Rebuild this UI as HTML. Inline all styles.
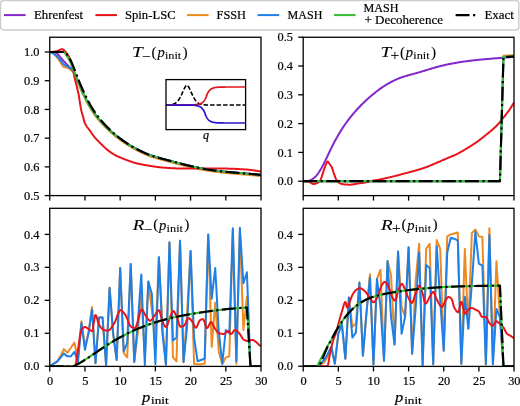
<!DOCTYPE html><html><head><meta charset="utf-8"><title>figure</title><style>html,body{margin:0;padding:0;background:#fff}svg{display:block}text{font-family:"Liberation Serif","DejaVu Serif",serif;fill:#000;stroke:#000;stroke-width:inherit}svg{stroke-width:0.2px}</style></head><body>
<svg width="520" height="406" viewBox="0 0 520 406">
<rect width="520" height="406" fill="#fff"/>
<defs>
<clipPath id="cTL"><rect x="49.75" y="37.25" width="211.25" height="158.35"/></clipPath>
<clipPath id="cTR"><rect x="303.2" y="37.25" width="210.8" height="158.35"/></clipPath>
<clipPath id="cBL"><rect x="49.75" y="208.3" width="211.25" height="158.09999999999997"/></clipPath>
<clipPath id="cBR"><rect x="303.2" y="208.3" width="210.8" height="158.09999999999997"/></clipPath>
<clipPath id="cI"><rect x="166" y="79.6" width="79.6" height="50"/></clipPath>
</defs>
<g clip-path="url(#cTL)">
<path d="M49.75,52.00 L50.13,52.00 L50.51,52.00 L50.89,52.00 L51.27,52.00 L51.64,52.00 L52.02,52.00 L52.40,52.00 L52.78,52.00 L53.16,52.00 L53.54,52.01 L53.92,52.07 L54.30,52.17 L54.67,52.30 L55.05,52.47 L55.43,52.66 L55.81,52.86 L56.19,53.08 L56.57,53.30 L56.95,53.53 L57.33,53.82 L57.71,54.16 L58.08,54.55 L58.46,54.97 L58.84,55.42 L59.22,55.88 L59.60,56.34 L59.98,56.79 L60.36,57.22 L60.74,57.64 L61.11,58.07 L61.49,58.51 L61.87,58.95 L62.25,59.39 L62.63,59.83 L63.01,60.26 L63.39,60.69 L63.77,61.12 L64.15,61.53 L64.52,61.94 L64.90,62.35 L65.28,62.75 L65.66,63.14 L66.04,63.54 L66.42,63.94 L66.80,64.34 L67.18,64.74 L67.55,65.14 L67.93,65.53 L68.31,65.93 L68.69,66.32 L69.07,66.71 L69.45,67.11 L69.83,67.51 L70.21,67.92 L70.59,68.33 L70.96,68.76 L71.34,69.18 L71.72,69.59 L72.10,70.00 L72.48,70.42 L72.86,70.86 L73.24,71.32 L73.62,71.82 L73.99,72.35 L74.37,72.93 L74.75,73.59 L75.13,74.35 L75.51,75.20 L75.89,76.11 L76.27,77.07 L76.65,78.05 L77.03,79.04 L77.40,80.01 L77.78,80.95 L77.92,81.28 L78.53,82.76 L79.14,84.23 L79.75,85.67 L80.37,87.10 L80.98,88.50 L81.59,89.88 L82.20,91.23 L82.82,92.56 L83.43,93.88 L84.04,95.16 L84.65,96.43 L85.26,97.67 L85.88,98.88 L86.49,100.08 L87.10,101.25 L87.71,102.39 L88.33,103.51 L88.94,104.61 L89.55,105.68 L90.16,106.73 L90.78,107.75 L91.39,108.74 L92.00,109.71 L92.61,110.66 L93.22,111.59 L93.84,112.49 L94.45,113.37 L95.06,114.23 L95.67,115.07 L96.29,115.89 L96.90,116.69 L97.51,117.48 L98.12,118.25 L98.74,119.00 L99.35,119.72 L99.96,120.42 L100.57,121.10 L101.18,121.77 L101.80,122.43 L102.41,123.08 L103.02,123.72 L103.63,124.35 L104.25,124.97 L104.86,125.59 L105.47,126.20 L106.08,126.80 L106.70,127.39 L107.31,127.98 L107.92,128.56 L108.53,129.13 L109.14,129.69 L109.76,130.25 L110.37,130.80 L110.98,131.35 L111.59,131.89 L112.21,132.42 L112.82,132.94 L113.43,133.46 L114.04,133.97 L114.66,134.47 L115.27,134.97 L115.88,135.46 L116.49,135.95 L117.11,136.43 L117.72,136.90 L118.33,137.37 L118.94,137.83 L119.55,138.28 L120.17,138.73 L120.78,139.17 L121.39,139.61 L122.00,140.04 L122.62,140.47 L123.23,140.89 L123.84,141.30 L124.45,141.71 L125.07,142.12 L125.68,142.52 L126.29,142.91 L126.90,143.30 L127.51,143.69 L128.13,144.08 L128.74,144.47 L129.35,144.85 L129.96,145.23 L130.58,145.61 L131.19,145.97 L131.80,146.34 L132.41,146.69 L133.03,147.05 L133.64,147.39 L134.25,147.74 L134.86,148.07 L135.47,148.41 L136.09,148.74 L136.70,149.06 L137.31,149.38 L137.92,149.69 L138.54,150.01 L139.15,150.31 L139.76,150.61 L140.37,150.91 L140.99,151.21 L141.60,151.50 L142.21,151.78 L142.82,152.07 L143.43,152.34 L144.05,152.62 L144.66,152.89 L145.27,153.16 L145.88,153.42 L146.50,153.68 L147.11,153.94 L147.72,154.19 L148.33,154.43 L148.95,154.67 L149.56,154.91 L150.17,155.13 L150.78,155.36 L151.39,155.57 L152.01,155.78 L152.62,155.99 L153.23,156.19 L153.84,156.39 L154.46,156.58 L155.07,156.77 L155.68,156.95 L156.29,157.14 L156.91,157.32 L157.52,157.49 L158.13,157.66 L158.74,157.83 L159.36,158.00 L159.97,158.17 L160.58,158.33 L161.19,158.50 L161.80,158.66 L162.42,158.82 L163.03,158.98 L163.64,159.14 L164.25,159.30 L164.87,159.46 L165.48,159.62 L166.09,159.78 L166.70,159.95 L167.32,160.11 L167.93,160.27 L168.54,160.43 L169.15,160.59 L169.76,160.75 L170.38,160.92 L170.99,161.08 L171.60,161.24 L172.21,161.40 L172.83,161.57 L173.44,161.73 L174.05,161.89 L174.66,162.05 L175.28,162.21 L175.89,162.37 L176.50,162.53 L177.11,162.69 L177.72,162.85 L178.34,163.01 L178.95,163.17 L179.56,163.33 L180.17,163.49 L180.79,163.65 L181.40,163.81 L182.01,163.96 L182.62,164.12 L183.24,164.27 L183.85,164.43 L184.46,164.58 L185.07,164.74 L185.68,164.89 L186.30,165.04 L186.91,165.19 L187.52,165.34 L188.13,165.49 L188.75,165.64 L189.36,165.78 L189.97,165.93 L190.58,166.07 L191.20,166.22 L191.81,166.36 L192.42,166.50 L193.03,166.64 L193.64,166.78 L194.26,166.91 L194.87,167.05 L195.48,167.18 L196.09,167.32 L196.71,167.45 L197.32,167.58 L197.93,167.71 L198.54,167.83 L199.16,167.96 L199.77,168.08 L200.38,168.21 L200.99,168.33 L201.61,168.44 L202.22,168.56 L202.83,168.68 L203.44,168.79 L204.05,168.90 L204.67,169.01 L205.28,169.12 L205.89,169.22 L206.50,169.33 L207.12,169.43 L207.73,169.53 L208.34,169.63 L208.95,169.72 L209.57,169.82 L210.18,169.91 L210.79,170.00 L211.40,170.09 L212.01,170.18 L212.63,170.26 L213.24,170.35 L213.85,170.43 L214.46,170.51 L215.08,170.59 L215.69,170.67 L216.30,170.75 L216.91,170.83 L217.53,170.90 L218.14,170.97 L218.75,171.05 L219.36,171.12 L219.97,171.19 L220.59,171.26 L221.20,171.32 L221.81,171.39 L222.42,171.45 L223.04,171.52 L223.65,171.58 L224.26,171.65 L224.87,171.71 L225.49,171.77 L226.10,171.83 L226.71,171.89 L227.32,171.95 L227.93,172.00 L228.55,172.06 L229.16,172.12 L229.77,172.17 L230.38,172.23 L231.00,172.28 L231.61,172.33 L232.22,172.39 L232.83,172.44 L233.45,172.49 L234.06,172.55 L234.67,172.60 L235.28,172.65 L235.89,172.70 L236.51,172.75 L237.12,172.80 L237.73,172.85 L238.34,172.90 L238.96,172.95 L239.57,173.00 L240.18,173.05 L240.79,173.10 L241.41,173.15 L242.02,173.20 L242.63,173.25 L243.24,173.30 L243.86,173.35 L244.47,173.41 L245.08,173.46 L245.69,173.51 L246.30,173.56 L246.92,173.61 L247.53,173.66 L248.14,173.71 L248.75,173.77 L249.37,173.82 L249.98,173.87 L250.59,173.93 L251.20,173.98 L251.82,174.04 L252.43,174.10 L253.04,174.15 L253.65,174.21 L254.26,174.27 L254.88,174.33 L255.49,174.39 L256.10,174.45 L256.71,174.51 L257.33,174.57 L257.94,174.63 L258.55,174.70 L259.16,174.76 L259.78,174.83 L260.39,174.90 L261.00,174.97" fill="none" stroke="#8228cc" stroke-width="2.0" stroke-linejoin="round" stroke-linecap="butt"/>
<path d="M49.75,52.00 L50.13,52.06 L50.51,52.15 L50.89,52.27 L51.27,52.42 L51.64,52.58 L52.02,52.76 L52.40,52.95 L52.78,53.16 L53.16,53.37 L53.54,53.60 L53.92,53.88 L54.30,54.19 L54.67,54.54 L55.05,54.92 L55.43,55.32 L55.81,55.74 L56.19,56.18 L56.57,56.62 L56.95,57.07 L57.33,57.56 L57.71,58.08 L58.08,58.64 L58.46,59.22 L58.84,59.81 L59.22,60.40 L59.60,60.99 L59.98,61.56 L60.36,62.12 L60.74,62.70 L61.11,63.32 L61.49,63.97 L61.87,64.61 L62.25,65.22 L62.63,65.78 L63.01,66.27 L63.39,66.65 L63.77,66.90 L64.15,67.05 L64.52,67.17 L64.90,67.26 L65.28,67.34 L65.66,67.41 L66.04,67.48 L66.42,67.55 L66.80,67.63 L67.18,67.74 L67.55,67.87 L67.93,68.02 L68.31,68.18 L68.69,68.37 L69.07,68.58 L69.45,68.80 L69.83,69.04 L70.21,69.30 L70.59,69.58 L70.96,69.88 L71.34,70.22 L71.72,70.61 L72.10,71.04 L72.48,71.52 L72.86,72.03 L73.24,72.57 L73.62,73.15 L73.99,73.75 L74.37,74.36 L74.75,75.03 L75.13,75.78 L75.51,76.60 L75.89,77.47 L76.27,78.38 L76.65,79.32 L77.03,80.26 L77.40,81.19 L77.78,82.11 L77.92,82.42 L78.53,83.91 L79.14,85.38 L79.75,86.82 L80.37,88.25 L80.98,89.65 L81.59,91.02 L82.20,92.38 L82.82,93.71 L83.43,95.02 L84.04,96.31 L84.65,97.58 L85.26,98.82 L85.88,100.03 L86.49,101.23 L87.10,102.40 L87.71,103.54 L88.33,104.66 L88.94,105.76 L89.55,106.83 L90.16,107.87 L90.78,108.90 L91.39,109.89 L92.00,110.86 L92.61,111.81 L93.22,112.73 L93.84,113.64 L94.45,114.52 L95.06,115.38 L95.67,116.22 L96.29,117.04 L96.90,117.84 L97.51,118.63 L98.12,119.40 L98.74,120.15 L99.35,120.87 L99.96,121.57 L100.57,122.25 L101.18,122.92 L101.80,123.58 L102.41,124.23 L103.02,124.87 L103.63,125.50 L104.25,126.12 L104.86,126.74 L105.47,127.35 L106.08,127.95 L106.70,128.54 L107.31,129.13 L107.92,129.71 L108.53,130.28 L109.14,130.84 L109.76,131.40 L110.37,131.95 L110.98,132.50 L111.59,133.03 L112.21,133.56 L112.82,134.09 L113.43,134.61 L114.04,135.12 L114.66,135.62 L115.27,136.12 L115.88,136.61 L116.49,137.10 L117.11,137.58 L117.72,138.05 L118.33,138.52 L118.94,138.98 L119.55,139.43 L120.17,139.88 L120.78,140.32 L121.39,140.76 L122.00,141.19 L122.62,141.62 L123.23,142.04 L123.84,142.45 L124.45,142.86 L125.07,143.27 L125.68,143.66 L126.29,144.06 L126.90,144.45 L127.51,144.84 L128.13,145.23 L128.74,145.62 L129.35,146.00 L129.96,146.38 L130.58,146.75 L131.19,147.12 L131.80,147.48 L132.41,147.84 L133.03,148.19 L133.64,148.54 L134.25,148.88 L134.86,149.22 L135.47,149.56 L136.09,149.88 L136.70,150.21 L137.31,150.53 L137.92,150.84 L138.54,151.15 L139.15,151.46 L139.76,151.76 L140.37,152.06 L140.99,152.36 L141.60,152.65 L142.21,152.93 L142.82,153.21 L143.43,153.49 L144.05,153.77 L144.66,154.04 L145.27,154.31 L145.88,154.57 L146.50,154.83 L147.11,155.09 L147.72,155.34 L148.33,155.58 L148.95,155.82 L149.56,156.06 L150.17,156.28 L150.78,156.50 L151.39,156.72 L152.01,156.93 L152.62,157.14 L153.23,157.34 L153.84,157.54 L154.46,157.73 L155.07,157.92 L155.68,158.10 L156.29,158.29 L156.91,158.46 L157.52,158.64 L158.13,158.81 L158.74,158.98 L159.36,159.15 L159.97,159.32 L160.58,159.48 L161.19,159.65 L161.80,159.81 L162.42,159.97 L163.03,160.13 L163.64,160.29 L164.25,160.45 L164.87,160.61 L165.48,160.77 L166.09,160.93 L166.70,161.09 L167.32,161.26 L167.93,161.42 L168.54,161.58 L169.15,161.74 L169.76,161.90 L170.38,162.07 L170.99,162.23 L171.60,162.39 L172.21,162.55 L172.83,162.71 L173.44,162.88 L174.05,163.04 L174.66,163.20 L175.28,163.36 L175.89,163.52 L176.50,163.68 L177.11,163.84 L177.72,164.00 L178.34,164.16 L178.95,164.32 L179.56,164.48 L180.17,164.64 L180.79,164.80 L181.40,164.95 L182.01,165.11 L182.62,165.27 L183.24,165.42 L183.85,165.58 L184.46,165.73 L185.07,165.88 L185.68,166.04 L186.30,166.19 L186.91,166.34 L187.52,166.49 L188.13,166.64 L188.75,166.78 L189.36,166.93 L189.97,167.08 L190.58,167.22 L191.20,167.36 L191.81,167.51 L192.42,167.65 L193.03,167.79 L193.64,167.93 L194.26,168.06 L194.87,168.20 L195.48,168.33 L196.09,168.47 L196.71,168.60 L197.32,168.73 L197.93,168.86 L198.54,168.98 L199.16,169.11 L199.77,169.23 L200.38,169.35 L200.99,169.47 L201.61,169.59 L202.22,169.71 L202.83,169.83 L203.44,169.94 L204.05,170.05 L204.67,170.16 L205.28,170.27 L205.89,170.37 L206.50,170.48 L207.12,170.58 L207.73,170.68 L208.34,170.77 L208.95,170.87 L209.57,170.97 L210.18,171.06 L210.79,171.15 L211.40,171.24 L212.01,171.33 L212.63,171.41 L213.24,171.50 L213.85,171.58 L214.46,171.66 L215.08,171.74 L215.69,171.82 L216.30,171.90 L216.91,171.97 L217.53,172.05 L218.14,172.12 L218.75,172.19 L219.36,172.27 L219.97,172.34 L220.59,172.40 L221.20,172.47 L221.81,172.54 L222.42,172.60 L223.04,172.67 L223.65,172.73 L224.26,172.79 L224.87,172.86 L225.49,172.92 L226.10,172.98 L226.71,173.04 L227.32,173.09 L227.93,173.15 L228.55,173.21 L229.16,173.26 L229.77,173.32 L230.38,173.38 L231.00,173.43 L231.61,173.48 L232.22,173.54 L232.83,173.59 L233.45,173.64 L234.06,173.69 L234.67,173.75 L235.28,173.80 L235.89,173.85 L236.51,173.90 L237.12,173.95 L237.73,174.00 L238.34,174.05 L238.96,174.10 L239.57,174.15 L240.18,174.20 L240.79,174.25 L241.41,174.30 L242.02,174.35 L242.63,174.40 L243.24,174.45 L243.86,174.50 L244.47,174.55 L245.08,174.60 L245.69,174.66 L246.30,174.71 L246.92,174.76 L247.53,174.81 L248.14,174.86 L248.75,174.92 L249.37,174.97 L249.98,175.02 L250.59,175.08 L251.20,175.13 L251.82,175.19 L252.43,175.24 L253.04,175.30 L253.65,175.36 L254.26,175.42 L254.88,175.48 L255.49,175.54 L256.10,175.60 L256.71,175.66 L257.33,175.72 L257.94,175.78 L258.55,175.85 L259.16,175.91 L259.78,175.98 L260.39,176.05 L261.00,176.11" fill="none" stroke="#ee8a22" stroke-width="2.0" stroke-linejoin="round" stroke-linecap="butt"/>
<path d="M49.75,52.00 L50.13,52.09 L50.51,52.20 L50.89,52.32 L51.27,52.47 L51.64,52.63 L52.02,52.80 L52.40,52.98 L52.78,53.17 L53.16,53.38 L53.54,53.59 L53.92,53.84 L54.30,54.11 L54.67,54.41 L55.05,54.72 L55.43,55.06 L55.81,55.40 L56.19,55.75 L56.57,56.10 L56.95,56.45 L57.33,56.82 L57.71,57.19 L58.08,57.58 L58.46,57.98 L58.84,58.39 L59.22,58.81 L59.60,59.24 L59.98,59.66 L60.36,60.09 L60.74,60.55 L61.11,61.04 L61.49,61.56 L61.87,62.08 L62.25,62.59 L62.63,63.09 L63.01,63.54 L63.39,63.95 L63.77,64.30 L64.15,64.58 L64.52,64.83 L64.90,65.06 L65.28,65.27 L65.66,65.46 L66.04,65.65 L66.42,65.84 L66.80,66.04 L67.18,66.25 L67.55,66.48 L67.93,66.71 L68.31,66.93 L68.69,67.15 L69.07,67.38 L69.45,67.62 L69.83,67.87 L70.21,68.14 L70.59,68.42 L70.96,68.73 L71.34,69.06 L71.72,69.41 L72.10,69.78 L72.48,70.18 L72.86,70.60 L73.24,71.06 L73.62,71.55 L73.99,72.08 L74.37,72.64 L74.75,73.29 L75.13,74.07 L75.51,74.94 L75.89,75.90 L76.27,76.90 L76.65,77.93 L77.03,78.96 L77.40,79.98 L77.78,80.95 L77.92,81.28 L78.53,82.76 L79.14,84.23 L79.75,85.67 L80.37,87.10 L80.98,88.50 L81.59,89.88 L82.20,91.23 L82.82,92.56 L83.43,93.88 L84.04,95.16 L84.65,96.43 L85.26,97.67 L85.88,98.88 L86.49,100.08 L87.10,101.25 L87.71,102.39 L88.33,103.51 L88.94,104.61 L89.55,105.68 L90.16,106.73 L90.78,107.75 L91.39,108.74 L92.00,109.71 L92.61,110.66 L93.22,111.59 L93.84,112.49 L94.45,113.37 L95.06,114.23 L95.67,115.07 L96.29,115.89 L96.90,116.69 L97.51,117.48 L98.12,118.25 L98.74,119.00 L99.35,119.72 L99.96,120.42 L100.57,121.10 L101.18,121.77 L101.80,122.43 L102.41,123.08 L103.02,123.72 L103.63,124.35 L104.25,124.97 L104.86,125.59 L105.47,126.20 L106.08,126.80 L106.70,127.39 L107.31,127.98 L107.92,128.56 L108.53,129.13 L109.14,129.69 L109.76,130.25 L110.37,130.80 L110.98,131.35 L111.59,131.89 L112.21,132.42 L112.82,132.94 L113.43,133.46 L114.04,133.97 L114.66,134.47 L115.27,134.97 L115.88,135.46 L116.49,135.95 L117.11,136.43 L117.72,136.90 L118.33,137.37 L118.94,137.83 L119.55,138.28 L120.17,138.73 L120.78,139.17 L121.39,139.61 L122.00,140.04 L122.62,140.47 L123.23,140.89 L123.84,141.30 L124.45,141.71 L125.07,142.12 L125.68,142.52 L126.29,142.91 L126.90,143.30 L127.51,143.69 L128.13,144.08 L128.74,144.47 L129.35,144.85 L129.96,145.23 L130.58,145.61 L131.19,145.97 L131.80,146.34 L132.41,146.69 L133.03,147.05 L133.64,147.39 L134.25,147.74 L134.86,148.07 L135.47,148.41 L136.09,148.74 L136.70,149.06 L137.31,149.38 L137.92,149.69 L138.54,150.01 L139.15,150.31 L139.76,150.61 L140.37,150.91 L140.99,151.21 L141.60,151.50 L142.21,151.78 L142.82,152.07 L143.43,152.34 L144.05,152.62 L144.66,152.89 L145.27,153.16 L145.88,153.42 L146.50,153.68 L147.11,153.94 L147.72,154.19 L148.33,154.43 L148.95,154.67 L149.56,154.91 L150.17,155.13 L150.78,155.36 L151.39,155.57 L152.01,155.78 L152.62,155.99 L153.23,156.19 L153.84,156.39 L154.46,156.58 L155.07,156.77 L155.68,156.95 L156.29,157.14 L156.91,157.32 L157.52,157.49 L158.13,157.66 L158.74,157.83 L159.36,158.00 L159.97,158.17 L160.58,158.33 L161.19,158.50 L161.80,158.66 L162.42,158.82 L163.03,158.98 L163.64,159.14 L164.25,159.30 L164.87,159.46 L165.48,159.62 L166.09,159.78 L166.70,159.95 L167.32,160.11 L167.93,160.27 L168.54,160.43 L169.15,160.59 L169.76,160.75 L170.38,160.92 L170.99,161.08 L171.60,161.24 L172.21,161.40 L172.83,161.57 L173.44,161.73 L174.05,161.89 L174.66,162.05 L175.28,162.21 L175.89,162.37 L176.50,162.53 L177.11,162.69 L177.72,162.85 L178.34,163.01 L178.95,163.17 L179.56,163.33 L180.17,163.49 L180.79,163.65 L181.40,163.81 L182.01,163.96 L182.62,164.12 L183.24,164.27 L183.85,164.43 L184.46,164.58 L185.07,164.74 L185.68,164.89 L186.30,165.04 L186.91,165.19 L187.52,165.34 L188.13,165.49 L188.75,165.64 L189.36,165.78 L189.97,165.93 L190.58,166.07 L191.20,166.22 L191.81,166.36 L192.42,166.50 L193.03,166.64 L193.64,166.78 L194.26,166.91 L194.87,167.05 L195.48,167.18 L196.09,167.32 L196.71,167.45 L197.32,167.58 L197.93,167.71 L198.54,167.83 L199.16,167.96 L199.77,168.08 L200.38,168.21 L200.99,168.33 L201.61,168.44 L202.22,168.56 L202.83,168.68 L203.44,168.79 L204.05,168.90 L204.67,169.01 L205.28,169.12 L205.89,169.22 L206.50,169.33 L207.12,169.43 L207.73,169.53 L208.34,169.63 L208.95,169.72 L209.57,169.82 L210.18,169.91 L210.79,170.00 L211.40,170.09 L212.01,170.18 L212.63,170.26 L213.24,170.35 L213.85,170.43 L214.46,170.51 L215.08,170.59 L215.69,170.67 L216.30,170.75 L216.91,170.83 L217.53,170.90 L218.14,170.97 L218.75,171.05 L219.36,171.12 L219.97,171.19 L220.59,171.26 L221.20,171.32 L221.81,171.39 L222.42,171.45 L223.04,171.52 L223.65,171.58 L224.26,171.65 L224.87,171.71 L225.49,171.77 L226.10,171.83 L226.71,171.89 L227.32,171.95 L227.93,172.00 L228.55,172.06 L229.16,172.12 L229.77,172.17 L230.38,172.23 L231.00,172.28 L231.61,172.33 L232.22,172.39 L232.83,172.44 L233.45,172.49 L234.06,172.55 L234.67,172.60 L235.28,172.65 L235.89,172.70 L236.51,172.75 L237.12,172.80 L237.73,172.85 L238.34,172.90 L238.96,172.95 L239.57,173.00 L240.18,173.05 L240.79,173.10 L241.41,173.15 L242.02,173.20 L242.63,173.25 L243.24,173.30 L243.86,173.35 L244.47,173.41 L245.08,173.46 L245.69,173.51 L246.30,173.56 L246.92,173.61 L247.53,173.66 L248.14,173.71 L248.75,173.77 L249.37,173.82 L249.98,173.87 L250.59,173.93 L251.20,173.98 L251.82,174.04 L252.43,174.10 L253.04,174.15 L253.65,174.21 L254.26,174.27 L254.88,174.33 L255.49,174.39 L256.10,174.45 L256.71,174.51 L257.33,174.57 L257.94,174.63 L258.55,174.70 L259.16,174.76 L259.78,174.83 L260.39,174.90 L261.00,174.97" fill="none" stroke="#1e80e6" stroke-width="2.0" stroke-linejoin="round" stroke-linecap="butt"/>
<path d="M49.75,52.00 L50.28,51.99 L50.81,51.97 L51.34,51.94 L51.87,51.90 L52.40,51.84 L52.93,51.78 L53.46,51.71 L53.99,51.63 L54.52,51.55 L55.04,51.46 L55.57,51.36 L56.10,51.27 L56.63,51.17 L57.16,51.05 L57.69,50.87 L58.22,50.63 L58.75,50.37 L59.28,50.09 L59.81,49.81 L60.34,49.56 L60.87,49.35 L61.40,49.20 L61.93,49.13 L62.46,49.19 L62.99,49.44 L63.52,49.84 L64.05,50.32 L64.57,50.84 L65.10,51.35 L65.63,51.93 L66.16,52.60 L66.69,53.33 L67.22,54.10 L67.75,54.89 L68.28,55.70 L68.81,56.56 L69.34,57.50 L69.87,58.55 L70.40,59.74 L70.93,61.16 L71.46,62.94 L71.99,64.99 L72.52,67.20 L73.05,69.49 L73.58,72.09 L74.10,74.96 L74.63,77.79 L75.16,80.27 L75.69,82.31 L76.22,84.22 L76.75,86.30 L77.28,88.52 L77.81,90.78 L78.34,92.93 L78.87,95.50 L79.40,99.27 L79.93,102.75 L80.46,106.07 L80.99,108.97 L81.52,111.29 L82.05,113.26 L82.58,115.10 L83.11,117.00 L83.63,119.00 L84.16,120.93 L84.69,122.57 L85.22,123.79 L85.75,124.82 L86.28,125.73 L86.81,126.54 L87.34,127.29 L87.87,127.99 L88.40,128.67 L88.93,129.34 L89.46,130.04 L89.99,130.78 L90.52,131.54 L91.05,132.30 L91.58,133.06 L92.11,133.81 L92.64,134.55 L93.16,135.28 L93.69,135.98 L94.22,136.67 L94.75,137.33 L95.28,137.96 L95.81,138.56 L96.34,139.16 L96.87,139.73 L97.40,140.29 L97.93,140.84 L98.46,141.38 L98.99,141.91 L99.52,142.44 L100.05,142.96 L100.58,143.48 L101.11,144.00 L101.64,144.52 L102.17,145.05 L102.69,145.57 L103.22,146.09 L103.75,146.61 L104.28,147.12 L104.81,147.62 L105.34,148.11 L105.87,148.58 L106.40,149.04 L106.93,149.48 L107.46,149.90 L107.99,150.32 L108.52,150.73 L109.05,151.13 L109.58,151.52 L110.11,151.91 L110.64,152.29 L111.17,152.66 L111.70,153.02 L112.22,153.37 L112.75,153.71 L113.28,154.04 L113.81,154.36 L114.34,154.66 L114.87,154.95 L115.40,155.24 L115.93,155.51 L116.46,155.77 L116.99,156.03 L117.52,156.28 L118.05,156.53 L118.58,156.77 L119.11,157.00 L119.64,157.23 L120.17,157.45 L120.70,157.67 L121.23,157.89 L121.76,158.10 L122.28,158.31 L122.81,158.52 L123.34,158.73 L123.87,158.94 L124.40,159.14 L124.93,159.35 L125.46,159.56 L125.99,159.76 L126.52,159.97 L127.05,160.17 L127.58,160.38 L128.11,160.58 L128.64,160.78 L129.17,160.98 L129.70,161.18 L130.23,161.37 L130.76,161.56 L131.29,161.75 L131.81,161.93 L132.34,162.11 L132.87,162.28 L133.40,162.44 L133.93,162.60 L134.46,162.75 L134.99,162.90 L135.52,163.04 L136.05,163.17 L136.58,163.30 L137.11,163.43 L137.64,163.56 L138.17,163.68 L138.70,163.79 L139.23,163.91 L139.76,164.02 L140.29,164.13 L140.82,164.24 L141.34,164.35 L141.87,164.45 L142.40,164.56 L142.93,164.66 L143.46,164.76 L143.99,164.86 L144.52,164.96 L145.05,165.06 L145.58,165.15 L146.11,165.25 L146.64,165.34 L147.17,165.43 L147.70,165.52 L148.23,165.61 L148.76,165.69 L149.29,165.77 L149.82,165.85 L150.35,165.93 L150.87,166.01 L151.40,166.09 L151.93,166.17 L152.46,166.25 L152.99,166.33 L153.52,166.41 L154.05,166.49 L154.58,166.57 L155.11,166.64 L155.64,166.72 L156.17,166.79 L156.70,166.87 L157.23,166.94 L157.76,167.01 L158.29,167.08 L158.82,167.15 L159.35,167.21 L159.88,167.27 L160.40,167.34 L160.93,167.39 L161.46,167.45 L161.99,167.50 L162.52,167.55 L163.05,167.60 L163.58,167.65 L164.11,167.69 L164.64,167.73 L165.17,167.76 L165.70,167.80 L166.23,167.83 L166.76,167.86 L167.29,167.90 L167.82,167.93 L168.35,167.96 L168.88,168.00 L169.41,168.03 L169.93,168.06 L170.46,168.09 L170.99,168.13 L171.52,168.16 L172.05,168.19 L172.58,168.22 L173.11,168.24 L173.64,168.27 L174.17,168.30 L174.70,168.33 L175.23,168.35 L175.76,168.38 L176.29,168.40 L176.82,168.42 L177.35,168.44 L177.88,168.46 L178.41,168.48 L178.94,168.50 L179.46,168.52 L179.99,168.53 L180.52,168.55 L181.05,168.56 L181.58,168.57 L182.11,168.58 L182.64,168.59 L183.17,168.59 L183.70,168.60 L184.23,168.60 L184.76,168.60 L185.29,168.60 L185.82,168.60 L186.35,168.60 L186.88,168.60 L187.41,168.60 L187.94,168.60 L188.47,168.60 L188.99,168.60 L189.52,168.60 L190.05,168.60 L190.58,168.60 L191.11,168.60 L191.64,168.60 L192.17,168.60 L192.70,168.60 L193.23,168.60 L193.76,168.60 L194.29,168.60 L194.82,168.60 L195.35,168.60 L195.88,168.60 L196.41,168.60 L196.94,168.60 L197.47,168.60 L198.00,168.60 L198.53,168.60 L199.05,168.60 L199.58,168.60 L200.11,168.60 L200.64,168.60 L201.17,168.60 L201.70,168.60 L202.23,168.60 L202.76,168.60 L203.29,168.60 L203.82,168.60 L204.35,168.60 L204.88,168.60 L205.41,168.60 L205.94,168.60 L206.47,168.60 L207.00,168.60 L207.53,168.60 L208.06,168.60 L208.58,168.60 L209.11,168.60 L209.64,168.60 L210.17,168.60 L210.70,168.60 L211.23,168.60 L211.76,168.60 L212.29,168.60 L212.82,168.60 L213.35,168.60 L213.88,168.60 L214.41,168.60 L214.94,168.60 L215.47,168.60 L216.00,168.60 L216.53,168.60 L217.06,168.60 L217.59,168.60 L218.11,168.60 L218.64,168.60 L219.17,168.60 L219.70,168.60 L220.23,168.60 L220.76,168.60 L221.29,168.60 L221.82,168.60 L222.35,168.60 L222.88,168.60 L223.41,168.60 L223.94,168.60 L224.47,168.60 L225.00,168.60 L225.53,168.60 L226.06,168.61 L226.59,168.61 L227.12,168.62 L227.64,168.62 L228.17,168.63 L228.70,168.64 L229.23,168.65 L229.76,168.67 L230.29,168.68 L230.82,168.70 L231.35,168.71 L231.88,168.73 L232.41,168.75 L232.94,168.77 L233.47,168.80 L234.00,168.82 L234.53,168.84 L235.06,168.87 L235.59,168.89 L236.12,168.92 L236.65,168.95 L237.17,168.97 L237.70,169.00 L238.23,169.03 L238.76,169.06 L239.29,169.09 L239.82,169.13 L240.35,169.16 L240.88,169.19 L241.41,169.22 L241.94,169.26 L242.47,169.29 L243.00,169.32 L243.53,169.36 L244.06,169.39 L244.59,169.43 L245.12,169.46 L245.65,169.50 L246.18,169.54 L246.70,169.58 L247.23,169.62 L247.76,169.67 L248.29,169.72 L248.82,169.77 L249.35,169.83 L249.88,169.88 L250.41,169.94 L250.94,170.01 L251.47,170.07 L252.00,170.14 L252.53,170.20 L253.06,170.27 L253.59,170.34 L254.12,170.42 L254.65,170.49 L255.18,170.57 L255.71,170.64 L256.23,170.72 L256.76,170.80 L257.29,170.88 L257.82,170.97 L258.35,171.05 L258.88,171.13 L259.41,171.22 L259.94,171.30 L260.47,171.39 L261.00,171.48" fill="none" stroke="#e8141a" stroke-width="2.0" stroke-linejoin="round" stroke-linecap="butt"/>
<path d="M49.75,52.00 L50.02,52.00 L50.28,52.00 L50.55,52.00 L50.82,52.00 L51.08,52.00 L51.35,52.00 L51.61,52.00 L51.88,52.00 L52.15,52.00 L52.41,52.00 L52.68,52.00 L52.95,52.00 L53.21,52.00 L53.48,52.00 L53.74,52.00 L54.01,52.00 L54.28,52.00 L54.54,52.00 L54.81,52.00 L55.08,52.00 L55.34,52.00 L55.61,52.00 L55.87,52.00 L56.14,52.00 L56.41,52.00 L56.67,52.00 L56.94,52.00 L57.21,52.00 L57.47,52.00 L57.74,52.00 L58.00,52.00 L58.27,52.00 L58.54,52.00 L58.80,52.00 L59.07,52.00 L59.34,52.00 L59.60,52.00 L59.87,52.00 L60.13,52.00 L60.40,52.00 L60.67,52.00 L60.93,52.00 L61.20,52.00 L61.47,52.00 L61.73,52.00 L62.00,52.00 L62.27,52.00 L62.53,52.00 L62.80,52.01 L63.06,52.05 L63.33,52.11 L63.60,52.20 L63.86,52.31 L64.13,52.44 L64.40,52.58 L64.66,52.78 L64.93,53.06 L65.19,53.40 L65.46,53.80 L65.73,54.21 L65.99,54.62 L66.26,55.02 L66.53,55.42 L66.79,55.83 L67.06,56.24 L67.32,56.67 L67.59,57.11 L67.86,57.55 L68.12,58.01 L68.39,58.48 L68.66,58.96 L68.92,59.45 L69.19,59.95 L69.45,60.47 L69.72,60.99 L69.99,61.54 L70.25,62.11 L70.52,62.70 L70.79,63.31 L71.05,63.93 L71.32,64.57 L71.59,65.22 L71.85,65.87 L72.12,66.54 L72.38,67.20 L72.65,67.87 L72.92,68.53 L73.18,69.19 L73.45,69.86 L73.72,70.53 L73.98,71.21 L74.25,71.90 L74.51,72.59 L74.78,73.29 L75.05,73.99 L75.31,74.69 L75.58,75.38 L75.85,76.08 L76.11,76.77 L76.38,77.45 L76.64,78.12 L76.91,78.78 L77.18,79.45 L77.44,80.11 L77.71,80.77 L77.92,81.28 L78.53,82.76 L79.14,84.23 L79.75,85.67 L80.37,87.10 L80.98,88.50 L81.59,89.88 L82.20,91.23 L82.82,92.56 L83.43,93.88 L84.04,95.16 L84.65,96.43 L85.26,97.67 L85.88,98.88 L86.49,100.08 L87.10,101.25 L87.71,102.39 L88.33,103.51 L88.94,104.61 L89.55,105.68 L90.16,106.73 L90.78,107.75 L91.39,108.74 L92.00,109.71 L92.61,110.66 L93.22,111.59 L93.84,112.49 L94.45,113.37 L95.06,114.23 L95.67,115.07 L96.29,115.89 L96.90,116.69 L97.51,117.48 L98.12,118.25 L98.74,119.00 L99.35,119.72 L99.96,120.42 L100.57,121.10 L101.18,121.77 L101.80,122.43 L102.41,123.08 L103.02,123.72 L103.63,124.35 L104.25,124.97 L104.86,125.59 L105.47,126.20 L106.08,126.80 L106.70,127.39 L107.31,127.98 L107.92,128.56 L108.53,129.13 L109.14,129.69 L109.76,130.25 L110.37,130.80 L110.98,131.35 L111.59,131.89 L112.21,132.42 L112.82,132.94 L113.43,133.46 L114.04,133.97 L114.66,134.47 L115.27,134.97 L115.88,135.46 L116.49,135.95 L117.11,136.43 L117.72,136.90 L118.33,137.37 L118.94,137.83 L119.55,138.28 L120.17,138.73 L120.78,139.17 L121.39,139.61 L122.00,140.04 L122.62,140.47 L123.23,140.89 L123.84,141.30 L124.45,141.71 L125.07,142.12 L125.68,142.52 L126.29,142.91 L126.90,143.30 L127.51,143.69 L128.13,144.08 L128.74,144.47 L129.35,144.85 L129.96,145.23 L130.58,145.61 L131.19,145.97 L131.80,146.34 L132.41,146.69 L133.03,147.05 L133.64,147.39 L134.25,147.74 L134.86,148.07 L135.47,148.41 L136.09,148.74 L136.70,149.06 L137.31,149.38 L137.92,149.69 L138.54,150.01 L139.15,150.31 L139.76,150.61 L140.37,150.91 L140.99,151.21 L141.60,151.50 L142.21,151.78 L142.82,152.07 L143.43,152.34 L144.05,152.62 L144.66,152.89 L145.27,153.16 L145.88,153.42 L146.50,153.68 L147.11,153.94 L147.72,154.19 L148.33,154.43 L148.95,154.67 L149.56,154.91 L150.17,155.13 L150.78,155.36 L151.39,155.57 L152.01,155.78 L152.62,155.99 L153.23,156.19 L153.84,156.39 L154.46,156.58 L155.07,156.77 L155.68,156.95 L156.29,157.14 L156.91,157.32 L157.52,157.49 L158.13,157.66 L158.74,157.83 L159.36,158.00 L159.97,158.17 L160.58,158.33 L161.19,158.50 L161.80,158.66 L162.42,158.82 L163.03,158.98 L163.64,159.14 L164.25,159.30 L164.87,159.46 L165.48,159.62 L166.09,159.78 L166.70,159.95 L167.32,160.11 L167.93,160.27 L168.54,160.43 L169.15,160.59 L169.76,160.75 L170.38,160.92 L170.99,161.08 L171.60,161.24 L172.21,161.40 L172.83,161.57 L173.44,161.73 L174.05,161.89 L174.66,162.05 L175.28,162.21 L175.89,162.37 L176.50,162.53 L177.11,162.69 L177.72,162.85 L178.34,163.01 L178.95,163.17 L179.56,163.33 L180.17,163.49 L180.79,163.65 L181.40,163.81 L182.01,163.96 L182.62,164.12 L183.24,164.27 L183.85,164.43 L184.46,164.58 L185.07,164.74 L185.68,164.89 L186.30,165.04 L186.91,165.19 L187.52,165.34 L188.13,165.49 L188.75,165.64 L189.36,165.78 L189.97,165.93 L190.58,166.07 L191.20,166.22 L191.81,166.36 L192.42,166.50 L193.03,166.64 L193.64,166.78 L194.26,166.91 L194.87,167.05 L195.48,167.18 L196.09,167.32 L196.71,167.45 L197.32,167.58 L197.93,167.71 L198.54,167.83 L199.16,167.96 L199.77,168.08 L200.38,168.21 L200.99,168.33 L201.61,168.44 L202.22,168.56 L202.83,168.68 L203.44,168.79 L204.05,168.90 L204.67,169.01 L205.28,169.12 L205.89,169.22 L206.50,169.33 L207.12,169.43 L207.73,169.53 L208.34,169.63 L208.95,169.72 L209.57,169.82 L210.18,169.91 L210.79,170.00 L211.40,170.09 L212.01,170.18 L212.63,170.26 L213.24,170.35 L213.85,170.43 L214.46,170.51 L215.08,170.59 L215.69,170.67 L216.30,170.75 L216.91,170.83 L217.53,170.90 L218.14,170.97 L218.75,171.05 L219.36,171.12 L219.97,171.19 L220.59,171.26 L221.20,171.32 L221.81,171.39 L222.42,171.45 L223.04,171.52 L223.65,171.58 L224.26,171.65 L224.87,171.71 L225.49,171.77 L226.10,171.83 L226.71,171.89 L227.32,171.95 L227.93,172.00 L228.55,172.06 L229.16,172.12 L229.77,172.17 L230.38,172.23 L231.00,172.28 L231.61,172.33 L232.22,172.39 L232.83,172.44 L233.45,172.49 L234.06,172.55 L234.67,172.60 L235.28,172.65 L235.89,172.70 L236.51,172.75 L237.12,172.80 L237.73,172.85 L238.34,172.90 L238.96,172.95 L239.57,173.00 L240.18,173.05 L240.79,173.10 L241.41,173.15 L242.02,173.20 L242.63,173.25 L243.24,173.30 L243.86,173.35 L244.47,173.41 L245.08,173.46 L245.69,173.51 L246.30,173.56 L246.92,173.61 L247.53,173.66 L248.14,173.71 L248.75,173.77 L249.37,173.82 L249.98,173.87 L250.59,173.93 L251.20,173.98 L251.82,174.04 L252.43,174.10 L253.04,174.15 L253.65,174.21 L254.26,174.27 L254.88,174.33 L255.49,174.39 L256.10,174.45 L256.71,174.51 L257.33,174.57 L257.94,174.63 L258.55,174.70 L259.16,174.76 L259.78,174.83 L260.39,174.90 L261.00,174.97" fill="none" stroke="#34bb34" stroke-width="2.0" stroke-linejoin="round" stroke-linecap="butt"/>
<path d="M49.75,52.00 L50.02,52.00 L50.28,52.00 L50.55,52.00 L50.82,52.00 L51.08,52.00 L51.35,52.00 L51.61,52.00 L51.88,52.00 L52.15,52.00 L52.41,52.00 L52.68,52.00 L52.95,52.00 L53.21,52.00 L53.48,52.00 L53.74,52.00 L54.01,52.00 L54.28,52.00 L54.54,52.00 L54.81,52.00 L55.08,52.00 L55.34,52.00 L55.61,52.00 L55.87,52.00 L56.14,52.00 L56.41,52.00 L56.67,52.00 L56.94,52.00 L57.21,52.00 L57.47,52.00 L57.74,52.00 L58.00,52.00 L58.27,52.00 L58.54,52.00 L58.80,52.00 L59.07,52.00 L59.34,52.00 L59.60,52.00 L59.87,52.00 L60.13,52.00 L60.40,52.00 L60.67,52.00 L60.93,52.00 L61.20,52.00 L61.47,52.00 L61.73,52.00 L62.00,52.00 L62.27,52.00 L62.53,52.00 L62.80,52.00 L63.06,52.00 L63.33,52.00 L63.60,52.00 L63.86,52.00 L64.13,52.02 L64.40,52.07 L64.66,52.15 L64.93,52.26 L65.19,52.37 L65.46,52.51 L65.73,52.66 L65.99,52.90 L66.26,53.22 L66.53,53.59 L66.79,54.00 L67.06,54.42 L67.32,54.83 L67.59,55.22 L67.86,55.62 L68.12,56.03 L68.39,56.46 L68.66,56.89 L68.92,57.33 L69.19,57.78 L69.45,58.25 L69.72,58.72 L69.99,59.20 L70.25,59.70 L70.52,60.21 L70.79,60.73 L71.05,61.26 L71.32,61.82 L71.59,62.40 L71.85,63.00 L72.12,63.62 L72.38,64.25 L72.65,64.89 L72.92,65.55 L73.18,66.21 L73.45,66.87 L73.72,67.54 L73.98,68.20 L74.25,68.87 L74.51,69.53 L74.78,70.19 L75.05,70.87 L75.31,71.56 L75.58,72.25 L75.85,72.94 L76.11,73.64 L76.38,74.34 L76.64,75.04 L76.91,75.73 L77.18,76.43 L77.44,77.11 L77.71,77.79 L77.92,78.31 L78.53,79.84 L79.14,81.34 L79.75,82.83 L80.37,84.30 L80.98,85.74 L81.59,87.16 L82.20,88.56 L82.82,89.94 L83.43,91.29 L84.04,92.62 L84.65,93.93 L85.26,95.22 L85.88,96.48 L86.49,97.72 L87.10,98.94 L87.71,100.13 L88.33,101.30 L88.94,102.44 L89.55,103.56 L90.16,104.66 L90.78,105.73 L91.39,106.77 L92.00,107.79 L92.61,108.79 L93.22,109.76 L93.84,110.70 L94.45,111.63 L95.06,112.53 L95.67,113.41 L96.29,114.27 L96.90,115.11 L97.51,115.93 L98.12,116.73 L98.74,117.51 L99.35,118.28 L99.96,119.03 L100.57,119.77 L101.18,120.50 L101.80,121.21 L102.41,121.90 L103.02,122.59 L103.63,123.27 L104.25,123.93 L104.86,124.59 L105.47,125.24 L106.08,125.88 L106.70,126.51 L107.31,127.13 L107.92,127.75 L108.53,128.35 L109.14,128.95 L109.76,129.55 L110.37,130.13 L110.98,130.71 L111.59,131.28 L112.21,131.84 L112.82,132.39 L113.43,132.94 L114.04,133.48 L114.66,134.01 L115.27,134.54 L115.88,135.06 L116.49,135.57 L117.11,136.08 L117.72,136.58 L118.33,137.07 L118.94,137.55 L119.55,138.03 L120.17,138.50 L120.78,138.97 L121.39,139.43 L122.00,139.88 L122.62,140.33 L123.23,140.77 L123.84,141.20 L124.45,141.63 L125.07,142.06 L125.68,142.47 L126.29,142.88 L126.90,143.29 L127.51,143.69 L128.13,144.08 L128.74,144.47 L129.35,144.85 L129.96,145.23 L130.58,145.61 L131.19,145.97 L131.80,146.34 L132.41,146.69 L133.03,147.05 L133.64,147.39 L134.25,147.74 L134.86,148.07 L135.47,148.41 L136.09,148.74 L136.70,149.06 L137.31,149.38 L137.92,149.69 L138.54,150.01 L139.15,150.31 L139.76,150.61 L140.37,150.91 L140.99,151.21 L141.60,151.50 L142.21,151.78 L142.82,152.07 L143.43,152.34 L144.05,152.62 L144.66,152.89 L145.27,153.16 L145.88,153.42 L146.50,153.68 L147.11,153.94 L147.72,154.19 L148.33,154.43 L148.95,154.67 L149.56,154.91 L150.17,155.13 L150.78,155.36 L151.39,155.57 L152.01,155.78 L152.62,155.99 L153.23,156.19 L153.84,156.39 L154.46,156.58 L155.07,156.77 L155.68,156.95 L156.29,157.14 L156.91,157.32 L157.52,157.49 L158.13,157.66 L158.74,157.83 L159.36,158.00 L159.97,158.17 L160.58,158.33 L161.19,158.50 L161.80,158.66 L162.42,158.82 L163.03,158.98 L163.64,159.14 L164.25,159.30 L164.87,159.46 L165.48,159.62 L166.09,159.78 L166.70,159.95 L167.32,160.11 L167.93,160.27 L168.54,160.43 L169.15,160.59 L169.76,160.75 L170.38,160.92 L170.99,161.08 L171.60,161.24 L172.21,161.40 L172.83,161.57 L173.44,161.73 L174.05,161.89 L174.66,162.05 L175.28,162.21 L175.89,162.37 L176.50,162.53 L177.11,162.69 L177.72,162.85 L178.34,163.01 L178.95,163.17 L179.56,163.33 L180.17,163.49 L180.79,163.65 L181.40,163.81 L182.01,163.96 L182.62,164.12 L183.24,164.27 L183.85,164.43 L184.46,164.58 L185.07,164.74 L185.68,164.89 L186.30,165.04 L186.91,165.19 L187.52,165.34 L188.13,165.49 L188.75,165.64 L189.36,165.78 L189.97,165.93 L190.58,166.07 L191.20,166.22 L191.81,166.36 L192.42,166.50 L193.03,166.64 L193.64,166.78 L194.26,166.91 L194.87,167.05 L195.48,167.18 L196.09,167.32 L196.71,167.45 L197.32,167.58 L197.93,167.71 L198.54,167.83 L199.16,167.96 L199.77,168.08 L200.38,168.21 L200.99,168.33 L201.61,168.44 L202.22,168.56 L202.83,168.68 L203.44,168.79 L204.05,168.90 L204.67,169.01 L205.28,169.12 L205.89,169.22 L206.50,169.33 L207.12,169.43 L207.73,169.53 L208.34,169.63 L208.95,169.72 L209.57,169.82 L210.18,169.91 L210.79,170.00 L211.40,170.09 L212.01,170.18 L212.63,170.26 L213.24,170.35 L213.85,170.43 L214.46,170.51 L215.08,170.59 L215.69,170.67 L216.30,170.75 L216.91,170.83 L217.53,170.90 L218.14,170.97 L218.75,171.05 L219.36,171.12 L219.97,171.19 L220.59,171.26 L221.20,171.32 L221.81,171.39 L222.42,171.45 L223.04,171.52 L223.65,171.58 L224.26,171.65 L224.87,171.71 L225.49,171.77 L226.10,171.83 L226.71,171.89 L227.32,171.95 L227.93,172.00 L228.55,172.06 L229.16,172.12 L229.77,172.17 L230.38,172.23 L231.00,172.28 L231.61,172.33 L232.22,172.39 L232.83,172.44 L233.45,172.49 L234.06,172.55 L234.67,172.60 L235.28,172.65 L235.89,172.70 L236.51,172.75 L237.12,172.80 L237.73,172.85 L238.34,172.90 L238.96,172.95 L239.57,173.00 L240.18,173.05 L240.79,173.10 L241.41,173.15 L242.02,173.20 L242.63,173.25 L243.24,173.30 L243.86,173.35 L244.47,173.41 L245.08,173.46 L245.69,173.51 L246.30,173.56 L246.92,173.61 L247.53,173.66 L248.14,173.71 L248.75,173.77 L249.37,173.82 L249.98,173.87 L250.59,173.93 L251.20,173.98 L251.82,174.04 L252.43,174.10 L253.04,174.15 L253.65,174.21 L254.26,174.27 L254.88,174.33 L255.49,174.39 L256.10,174.45 L256.71,174.51 L257.33,174.57 L257.94,174.63 L258.55,174.70 L259.16,174.76 L259.78,174.83 L260.39,174.90 L261.00,174.97" fill="none" stroke="#000" stroke-width="2.18" stroke-linejoin="round" stroke-linecap="butt" stroke-dasharray="13.95,3.49,2.18,3.49"/>
</g>
<g clip-path="url(#cTR)">
<path d="M303.20,180.99 L303.91,181.06 L304.61,181.09 L305.32,181.10 L306.02,181.08 L306.73,181.02 L307.43,180.93 L308.14,180.80 L308.84,180.63 L309.55,180.41 L310.25,180.15 L310.96,179.84 L311.66,179.48 L312.37,179.07 L313.07,178.60 L313.78,178.07 L314.48,177.48 L315.19,176.83 L315.89,176.11 L316.60,175.32 L317.30,174.47 L318.01,173.54 L318.71,172.54 L319.42,171.47 L320.12,170.34 L320.83,169.15 L321.53,167.92 L322.24,166.63 L322.94,165.30 L323.65,163.94 L324.35,162.54 L325.06,161.12 L325.76,159.67 L326.47,158.21 L327.17,156.73 L327.88,155.25 L328.58,153.76 L329.29,152.28 L330.00,150.80 L330.70,149.33 L331.41,147.88 L332.11,146.46 L332.82,145.06 L333.52,143.68 L334.23,142.33 L334.93,141.00 L335.64,139.70 L336.34,138.42 L337.05,137.17 L337.75,135.93 L338.46,134.72 L339.16,133.54 L339.87,132.37 L340.57,131.22 L341.28,130.10 L341.98,129.00 L342.69,127.91 L343.39,126.85 L344.10,125.80 L344.80,124.77 L345.51,123.77 L346.21,122.77 L346.92,121.80 L347.62,120.84 L348.33,119.90 L349.03,118.98 L349.74,118.07 L350.44,117.17 L351.15,116.30 L351.85,115.43 L352.56,114.58 L353.26,113.74 L353.97,112.92 L354.67,112.11 L355.38,111.31 L356.09,110.52 L356.79,109.74 L357.50,108.97 L358.20,108.22 L358.91,107.47 L359.61,106.74 L360.32,106.01 L361.02,105.29 L361.73,104.58 L362.43,103.88 L363.14,103.19 L363.84,102.50 L364.55,101.83 L365.25,101.16 L365.96,100.50 L366.66,99.85 L367.37,99.20 L368.07,98.57 L368.78,97.94 L369.48,97.32 L370.19,96.71 L370.89,96.10 L371.60,95.50 L372.30,94.91 L373.01,94.32 L373.71,93.75 L374.42,93.18 L375.12,92.62 L375.83,92.06 L376.53,91.52 L377.24,90.98 L377.94,90.45 L378.65,89.92 L379.35,89.41 L380.06,88.90 L380.76,88.40 L381.47,87.91 L382.18,87.42 L382.88,86.95 L383.59,86.48 L384.29,86.02 L385.00,85.57 L385.70,85.12 L386.41,84.69 L387.11,84.26 L387.82,83.84 L388.52,83.43 L389.23,83.03 L389.93,82.64 L390.64,82.25 L391.34,81.87 L392.05,81.50 L392.75,81.14 L393.46,80.79 L394.16,80.45 L394.87,80.12 L395.57,79.79 L396.28,79.47 L396.98,79.17 L397.69,78.87 L398.39,78.58 L399.10,78.30 L399.80,78.02 L400.51,77.76 L401.21,77.51 L401.92,77.26 L402.62,77.02 L403.33,76.79 L404.03,76.56 L404.74,76.34 L405.44,76.13 L406.15,75.92 L406.85,75.72 L407.56,75.52 L408.26,75.32 L408.97,75.12 L409.68,74.93 L410.38,74.74 L411.09,74.55 L411.79,74.36 L412.50,74.18 L413.20,73.99 L413.91,73.80 L414.61,73.61 L415.32,73.41 L416.02,73.22 L416.73,73.02 L417.43,72.82 L418.14,72.61 L418.84,72.41 L419.55,72.20 L420.25,71.99 L420.96,71.78 L421.66,71.56 L422.37,71.35 L423.07,71.13 L423.78,70.92 L424.48,70.70 L425.19,70.48 L425.89,70.27 L426.60,70.05 L427.30,69.83 L428.01,69.61 L428.71,69.40 L429.42,69.18 L430.12,68.97 L430.83,68.75 L431.53,68.54 L432.24,68.33 L432.94,68.12 L433.65,67.92 L434.35,67.72 L435.06,67.51 L435.77,67.32 L436.47,67.12 L437.18,66.93 L437.88,66.74 L438.59,66.55 L439.29,66.37 L440.00,66.19 L440.70,66.01 L441.41,65.84 L442.11,65.67 L442.82,65.50 L443.52,65.33 L444.23,65.17 L444.93,65.01 L445.64,64.85 L446.34,64.70 L447.05,64.54 L447.75,64.39 L448.46,64.25 L449.16,64.10 L449.87,63.96 L450.57,63.82 L451.28,63.68 L451.98,63.54 L452.69,63.41 L453.39,63.28 L454.10,63.15 L454.80,63.02 L455.51,62.90 L456.21,62.78 L456.92,62.66 L457.62,62.54 L458.33,62.42 L459.03,62.31 L459.74,62.20 L460.44,62.09 L461.15,61.98 L461.86,61.87 L462.56,61.77 L463.27,61.67 L463.97,61.57 L464.68,61.47 L465.38,61.37 L466.09,61.27 L466.79,61.18 L467.50,61.09 L468.20,61.00 L468.91,60.91 L469.61,60.82 L470.32,60.73 L471.02,60.65 L471.73,60.57 L472.43,60.48 L473.14,60.40 L473.84,60.32 L474.55,60.24 L475.25,60.17 L475.96,60.09 L476.66,60.02 L477.37,59.94 L478.07,59.87 L478.78,59.80 L479.48,59.73 L480.19,59.66 L480.89,59.59 L481.60,59.52 L482.30,59.46 L483.01,59.39 L483.71,59.33 L484.42,59.26 L485.12,59.20 L485.83,59.14 L486.53,59.07 L487.24,59.01 L487.95,58.95 L488.65,58.89 L489.36,58.83 L490.06,58.77 L490.77,58.71 L491.47,58.66 L492.18,58.60 L492.88,58.54 L493.59,58.48 L494.29,58.43 L495.00,58.37 L495.70,58.32 L496.41,58.26 L497.11,58.20 L497.82,58.15 L498.52,58.09 L499.23,58.04 L499.93,57.98 L500.64,57.93 L501.34,57.87 L502.05,57.82 L502.75,57.76 L503.46,57.70 L504.16,57.65 L504.87,57.59 L505.57,57.54 L506.28,57.48 L506.98,57.42 L507.69,57.36 L508.39,57.31 L509.10,57.25 L509.80,57.19 L510.51,57.13 L511.21,57.07 L511.92,57.01 L512.62,56.95 L513.33,56.89 L514.04,56.83" fill="none" stroke="#8228cc" stroke-width="2.0" stroke-linejoin="round" stroke-linecap="butt"/>
<path d="M303.20,181.20 L499.95,181.20 L503.46,55.63 L514.00,55.34" fill="none" stroke="#ee8a22" stroke-width="2.0" stroke-linejoin="round" stroke-linecap="butt"/>
<path d="M303.20,181.20 L499.95,181.20 L503.46,57.07 L514.00,56.61" fill="none" stroke="#1e80e6" stroke-width="2.0" stroke-linejoin="round" stroke-linecap="butt"/>
<path d="M303.20,181.20 L303.73,181.21 L304.26,181.23 L304.78,181.27 L305.31,181.32 L305.84,181.37 L306.37,181.44 L306.90,181.52 L307.43,181.60 L307.95,181.69 L308.48,181.78 L309.01,181.92 L309.54,182.13 L310.07,182.40 L310.60,182.70 L311.12,183.01 L311.65,183.31 L312.18,183.58 L312.71,183.80 L313.24,183.94 L313.77,183.99 L314.29,183.96 L314.82,183.88 L315.35,183.75 L315.88,183.58 L316.41,183.37 L316.94,183.14 L317.46,182.89 L317.99,182.62 L318.52,182.27 L319.05,181.80 L319.58,181.21 L320.11,180.51 L320.63,179.67 L321.16,178.42 L321.69,176.86 L322.22,175.16 L322.75,173.51 L323.28,171.94 L323.80,170.31 L324.33,168.67 L324.86,167.14 L325.39,165.80 L325.92,164.45 L326.45,163.11 L326.97,162.03 L327.50,161.49 L328.03,161.66 L328.56,162.33 L329.09,163.20 L329.62,164.01 L330.14,164.72 L330.67,165.43 L331.20,166.21 L331.73,167.11 L332.26,168.25 L332.79,169.88 L333.31,171.72 L333.84,173.43 L334.37,174.90 L334.90,176.36 L335.43,177.73 L335.96,178.94 L336.48,179.91 L337.01,180.65 L337.54,181.32 L338.07,181.91 L338.60,182.40 L339.13,182.78 L339.65,183.06 L340.18,183.31 L340.71,183.53 L341.24,183.74 L341.77,183.92 L342.30,184.07 L342.82,184.20 L343.35,184.29 L343.88,184.36 L344.41,184.41 L344.94,184.45 L345.47,184.49 L345.99,184.52 L346.52,184.55 L347.05,184.58 L347.58,184.61 L348.11,184.63 L348.64,184.64 L349.16,184.65 L349.69,184.66 L350.22,184.65 L350.75,184.63 L351.28,184.60 L351.81,184.55 L352.33,184.48 L352.86,184.41 L353.39,184.32 L353.92,184.23 L354.45,184.14 L354.98,184.04 L355.50,183.94 L356.03,183.84 L356.56,183.74 L357.09,183.65 L357.62,183.56 L358.15,183.48 L358.67,183.41 L359.20,183.34 L359.73,183.27 L360.26,183.20 L360.79,183.13 L361.32,183.07 L361.84,183.00 L362.37,182.93 L362.90,182.86 L363.43,182.78 L363.96,182.71 L364.49,182.62 L365.01,182.54 L365.54,182.45 L366.07,182.36 L366.60,182.25 L367.13,182.13 L367.66,182.00 L368.18,181.85 L368.71,181.71 L369.24,181.55 L369.77,181.40 L370.30,181.26 L370.83,181.12 L371.35,180.98 L371.88,180.86 L372.41,180.76 L372.94,180.66 L373.47,180.56 L373.99,180.48 L374.52,180.39 L375.05,180.31 L375.58,180.23 L376.11,180.14 L376.64,180.06 L377.16,179.97 L377.69,179.88 L378.22,179.78 L378.75,179.68 L379.28,179.58 L379.81,179.47 L380.33,179.37 L380.86,179.26 L381.39,179.15 L381.92,179.04 L382.45,178.92 L382.98,178.81 L383.50,178.69 L384.03,178.58 L384.56,178.46 L385.09,178.34 L385.62,178.22 L386.15,178.11 L386.67,177.99 L387.20,177.87 L387.73,177.75 L388.26,177.63 L388.79,177.51 L389.32,177.39 L389.84,177.27 L390.37,177.14 L390.90,177.02 L391.43,176.90 L391.96,176.78 L392.49,176.65 L393.01,176.53 L393.54,176.40 L394.07,176.27 L394.60,176.14 L395.13,176.01 L395.66,175.88 L396.18,175.75 L396.71,175.62 L397.24,175.48 L397.77,175.34 L398.30,175.20 L398.83,175.06 L399.35,174.91 L399.88,174.76 L400.41,174.60 L400.94,174.45 L401.47,174.30 L402.00,174.15 L402.52,174.01 L403.05,173.87 L403.58,173.72 L404.11,173.58 L404.64,173.44 L405.17,173.31 L405.69,173.17 L406.22,173.03 L406.75,172.89 L407.28,172.76 L407.81,172.62 L408.34,172.49 L408.86,172.35 L409.39,172.21 L409.92,172.08 L410.45,171.94 L410.98,171.80 L411.51,171.66 L412.03,171.52 L412.56,171.38 L413.09,171.24 L413.62,171.10 L414.15,170.95 L414.68,170.80 L415.20,170.65 L415.73,170.50 L416.26,170.35 L416.79,170.19 L417.32,170.04 L417.85,169.88 L418.37,169.72 L418.90,169.56 L419.43,169.40 L419.96,169.24 L420.49,169.07 L421.02,168.91 L421.54,168.74 L422.07,168.57 L422.60,168.40 L423.13,168.23 L423.66,168.05 L424.19,167.87 L424.71,167.69 L425.24,167.50 L425.77,167.32 L426.30,167.13 L426.83,166.93 L427.36,166.73 L427.88,166.52 L428.41,166.31 L428.94,166.10 L429.47,165.88 L430.00,165.66 L430.53,165.44 L431.05,165.21 L431.58,164.98 L432.11,164.75 L432.64,164.52 L433.17,164.29 L433.70,164.06 L434.22,163.83 L434.75,163.60 L435.28,163.37 L435.81,163.15 L436.34,162.92 L436.87,162.70 L437.39,162.47 L437.92,162.24 L438.45,162.02 L438.98,161.79 L439.51,161.56 L440.04,161.34 L440.56,161.11 L441.09,160.88 L441.62,160.65 L442.15,160.42 L442.68,160.19 L443.21,159.97 L443.73,159.74 L444.26,159.51 L444.79,159.28 L445.32,159.05 L445.85,158.83 L446.37,158.60 L446.90,158.38 L447.43,158.16 L447.96,157.94 L448.49,157.72 L449.02,157.50 L449.54,157.29 L450.07,157.07 L450.60,156.86 L451.13,156.64 L451.66,156.42 L452.19,156.20 L452.71,155.98 L453.24,155.76 L453.77,155.53 L454.30,155.29 L454.83,155.06 L455.36,154.82 L455.88,154.57 L456.41,154.31 L456.94,154.05 L457.47,153.79 L458.00,153.52 L458.53,153.24 L459.05,152.95 L459.58,152.67 L460.11,152.38 L460.64,152.08 L461.17,151.78 L461.70,151.48 L462.22,151.17 L462.75,150.86 L463.28,150.55 L463.81,150.24 L464.34,149.92 L464.87,149.61 L465.39,149.29 L465.92,148.98 L466.45,148.66 L466.98,148.34 L467.51,148.02 L468.04,147.70 L468.56,147.38 L469.09,147.05 L469.62,146.72 L470.15,146.39 L470.68,146.06 L471.21,145.73 L471.73,145.39 L472.26,145.05 L472.79,144.70 L473.32,144.36 L473.85,144.01 L474.38,143.65 L474.90,143.30 L475.43,142.94 L475.96,142.57 L476.49,142.21 L477.02,141.83 L477.55,141.45 L478.07,141.07 L478.60,140.69 L479.13,140.30 L479.66,139.90 L480.19,139.50 L480.72,139.10 L481.24,138.69 L481.77,138.28 L482.30,137.87 L482.83,137.46 L483.36,137.04 L483.89,136.62 L484.41,136.20 L484.94,135.77 L485.47,135.34 L486.00,134.92 L486.53,134.49 L487.06,134.06 L487.58,133.63 L488.11,133.21 L488.64,132.78 L489.17,132.35 L489.70,131.92 L490.23,131.49 L490.75,131.05 L491.28,130.61 L491.81,130.16 L492.34,129.71 L492.87,129.25 L493.40,128.78 L493.92,128.31 L494.45,127.82 L494.98,127.33 L495.51,126.82 L496.04,126.30 L496.57,125.77 L497.09,125.22 L497.62,124.64 L498.15,124.04 L498.68,123.43 L499.21,122.80 L499.74,122.17 L500.26,121.52 L500.79,120.87 L501.32,120.21 L501.85,119.56 L502.38,118.91 L502.91,118.27 L503.43,117.62 L503.96,116.98 L504.49,116.33 L505.02,115.68 L505.55,115.02 L506.08,114.35 L506.60,113.67 L507.13,112.97 L507.66,112.26 L508.19,111.54 L508.72,110.80 L509.25,110.04 L509.77,109.26 L510.30,108.47 L510.83,107.66 L511.36,106.84 L511.89,106.00 L512.42,105.15 L512.94,104.29 L513.47,103.41 L514.00,102.52" fill="none" stroke="#e8141a" stroke-width="2.0" stroke-linejoin="round" stroke-linecap="butt"/>
<path d="M303.20,181.20 L499.95,181.20 L503.46,57.07 L514.00,56.61" fill="none" stroke="#34bb34" stroke-width="2.0" stroke-linejoin="round" stroke-linecap="butt"/>
<path d="M303.20,181.20 L499.95,181.20 L503.46,57.07 L514.00,56.61" fill="none" stroke="#000" stroke-width="2.18" stroke-linejoin="round" stroke-linecap="butt" stroke-dasharray="13.95,3.49,2.18,3.49"/>
</g>
<g clip-path="url(#cBL)">
<path d="M49.75,366.25 L53.27,363.94 L56.79,361.97 L60.31,356.36 L63.83,349.11 L67.35,352.74 L70.88,347.79 L74.40,342.52 L77.92,359.66 L81.44,321.26 L84.96,346.14 L88.48,333.29 L92.00,306.92 L95.52,363.28 L99.04,317.47 L102.56,317.47 L106.08,364.93 L109.60,287.81 L113.12,333.29 L116.65,359.99 L120.17,268.03 L123.69,353.07 L127.21,357.35 L130.73,264.07 L134.25,361.97 L137.77,333.29 L141.29,293.74 L144.81,356.36 L148.33,281.54 L151.85,310.22 L155.38,338.23 L158.90,257.15 L162.42,326.70 L165.94,364.60 L169.46,242.32 L172.98,357.35 L176.50,361.31 L180.02,240.67 L183.54,362.29 L187.06,313.51 L190.58,250.89 L194.10,363.94 L197.62,364.27 L201.15,364.27 L204.67,363.61 L208.19,234.41 L211.71,346.80 L215.23,302.64 L218.75,351.42 L222.27,364.27 L225.79,357.35 L229.31,356.36 L232.83,229.47 L236.35,363.75 L239.88,231.11 L243.40,329.99 L246.92,297.03 L250.44,366.25 L253.96,366.25 L257.48,366.25 L261.00,366.25" fill="none" stroke="#ee8a22" stroke-width="2.0" stroke-linejoin="round" stroke-linecap="butt"/>
<path d="M49.75,366.25 L53.27,363.94 L56.79,361.97 L60.31,358.01 L63.83,353.40 L67.35,356.36 L70.88,356.36 L74.40,351.75 L77.92,362.29 L81.44,323.07 L84.96,349.77 L88.48,333.29 L92.00,309.39 L95.52,363.28 L99.04,317.47 L102.56,317.47 L106.08,364.93 L109.60,287.81 L113.12,333.29 L116.65,359.99 L120.17,268.03 L123.69,351.25 L127.21,343.18 L130.73,264.07 L134.25,361.97 L137.77,323.40 L141.29,274.62 L144.81,364.93 L148.33,281.54 L151.85,293.74 L155.38,364.27 L158.90,257.15 L162.42,333.29 L165.94,364.60 L169.46,242.32 L172.98,340.54 L176.50,337.57 L180.02,240.67 L183.54,361.97 L187.06,326.70 L190.58,250.89 L194.10,337.90 L197.62,361.31 L201.15,359.99 L204.67,358.67 L208.19,234.41 L211.71,298.68 L215.23,268.03 L218.75,331.64 L222.27,363.75 L225.79,329.99 L229.31,333.29 L232.83,228.15 L236.35,361.31 L239.88,227.82 L243.40,283.19 L246.92,272.31 L250.44,366.25 L253.96,366.25 L257.48,366.25 L261.00,366.25" fill="none" stroke="#1e80e6" stroke-width="2.0" stroke-linejoin="round" stroke-linecap="butt"/>
<path d="M49.75,366.25 L50.17,366.25 L50.60,366.25 L51.02,366.25 L51.44,366.25 L51.87,366.25 L52.29,366.25 L52.71,366.25 L53.14,366.25 L53.56,366.25 L53.98,366.25 L54.41,366.25 L54.83,366.25 L55.25,366.25 L55.68,366.25 L56.10,366.25 L56.52,366.25 L56.95,366.25 L57.37,366.25 L57.79,366.25 L58.22,366.25 L58.64,366.25 L59.06,366.25 L59.49,366.25 L59.91,366.25 L60.33,366.25 L60.76,366.25 L61.18,366.25 L61.60,366.25 L62.03,366.25 L62.45,366.25 L62.87,366.25 L63.30,366.25 L63.72,366.25 L64.14,366.25 L64.57,366.25 L64.99,366.25 L65.41,366.25 L65.84,366.25 L66.26,366.25 L66.68,366.25 L67.11,366.25 L67.53,366.25 L67.95,366.25 L68.38,366.25 L68.80,366.25 L69.22,366.25 L69.65,366.25 L70.07,366.25 L70.49,366.25 L70.92,366.25 L71.34,366.25 L71.76,366.25 L72.19,366.25 L72.61,366.25 L73.03,366.25 L73.46,366.25 L73.88,366.25 L74.30,366.25 L74.73,366.25 L75.15,366.16 L75.57,365.11 L76.00,363.12 L76.42,360.46 L76.84,357.44 L77.27,354.34 L77.69,351.45 L78.11,348.94 L78.54,346.21 L78.96,343.26 L79.38,340.25 L79.81,337.35 L80.23,334.70 L80.65,332.47 L81.08,330.82 L81.50,329.90 L81.92,329.31 L82.35,328.77 L82.77,328.28 L83.19,327.87 L83.62,327.53 L84.04,327.27 L84.46,327.10 L84.89,327.03 L85.31,327.07 L85.73,327.20 L86.16,327.41 L86.58,327.67 L87.00,327.98 L87.43,328.29 L87.85,328.60 L88.27,328.88 L88.70,329.14 L89.12,329.42 L89.54,329.73 L89.97,330.05 L90.39,330.35 L90.81,330.61 L91.24,330.82 L91.66,330.95 L92.08,330.96 L92.51,330.08 L92.93,328.22 L93.35,325.70 L93.78,322.87 L94.20,320.05 L94.62,317.58 L95.05,315.78 L95.47,315.01 L95.89,315.25 L96.32,316.05 L96.74,317.26 L97.16,318.73 L97.59,320.33 L98.01,321.90 L98.43,323.30 L98.86,324.38 L99.28,325.10 L99.70,325.74 L100.13,326.37 L100.55,326.96 L100.97,327.52 L101.40,328.03 L101.82,328.50 L102.24,328.92 L102.67,329.28 L103.09,329.58 L103.52,329.82 L103.94,329.98 L104.36,330.10 L104.79,330.21 L105.21,330.32 L105.63,330.41 L106.06,330.49 L106.48,330.55 L106.90,330.60 L107.33,330.64 L107.75,330.65 L108.17,330.62 L108.60,330.49 L109.02,330.26 L109.44,329.95 L109.87,329.56 L110.29,329.10 L110.71,328.59 L111.14,328.03 L111.56,327.43 L111.98,326.80 L112.41,326.15 L112.83,325.49 L113.25,324.82 L113.68,324.17 L114.10,323.52 L114.52,322.84 L114.95,322.00 L115.37,321.03 L115.79,319.96 L116.22,318.81 L116.64,317.63 L117.06,316.44 L117.49,315.27 L117.91,314.15 L118.33,313.11 L118.76,312.19 L119.18,311.41 L119.60,310.80 L120.03,310.39 L120.45,310.22 L120.87,310.26 L121.30,310.41 L121.72,310.65 L122.14,310.98 L122.57,311.38 L122.99,311.84 L123.41,312.34 L123.84,312.87 L124.26,313.42 L124.68,313.97 L125.11,314.52 L125.53,315.14 L125.95,315.92 L126.38,316.82 L126.80,317.81 L127.22,318.87 L127.65,319.97 L128.07,321.08 L128.49,322.17 L128.92,323.21 L129.34,324.17 L129.76,325.02 L130.19,325.75 L130.61,326.30 L131.03,326.67 L131.46,326.90 L131.88,327.12 L132.30,327.33 L132.73,327.51 L133.15,327.67 L133.57,327.81 L134.00,327.91 L134.42,327.98 L134.84,328.01 L135.27,327.90 L135.69,327.40 L136.11,326.55 L136.54,325.41 L136.96,324.04 L137.38,322.48 L137.81,320.81 L138.23,319.08 L138.65,317.33 L139.08,315.63 L139.50,314.03 L139.92,312.59 L140.35,311.37 L140.77,310.42 L141.19,309.80 L141.62,309.56 L142.04,309.67 L142.46,310.02 L142.89,310.56 L143.31,311.25 L143.73,312.04 L144.16,312.89 L144.58,313.75 L145.00,314.58 L145.43,315.33 L145.85,315.96 L146.27,316.54 L146.70,317.16 L147.12,317.80 L147.54,318.43 L147.97,319.04 L148.39,319.59 L148.81,320.07 L149.24,320.43 L149.66,320.68 L150.08,320.77 L150.51,320.69 L150.93,320.47 L151.35,320.12 L151.78,319.66 L152.20,319.13 L152.62,318.53 L153.05,317.89 L153.47,317.23 L153.89,316.57 L154.32,315.94 L154.74,315.35 L155.16,314.82 L155.59,314.23 L156.01,313.57 L156.43,312.87 L156.86,312.19 L157.28,311.55 L157.70,310.99 L158.13,310.56 L158.55,310.29 L158.97,310.23 L159.40,310.73 L159.82,311.81 L160.24,313.31 L160.67,315.03 L161.09,316.80 L161.51,318.45 L161.94,319.79 L162.36,320.80 L162.78,321.83 L163.21,322.86 L163.63,323.86 L164.05,324.79 L164.48,325.60 L164.90,326.27 L165.32,326.75 L165.75,327.00 L166.17,326.96 L166.59,326.54 L167.02,325.79 L167.44,324.78 L167.86,323.58 L168.29,322.26 L168.71,320.90 L169.13,319.55 L169.56,318.30 L169.98,317.21 L170.40,316.29 L170.83,315.29 L171.25,314.26 L171.67,313.25 L172.10,312.36 L172.52,311.63 L172.94,311.16 L173.37,311.01 L173.79,311.20 L174.21,311.68 L174.64,312.39 L175.06,313.26 L175.48,314.24 L175.91,315.28 L176.33,316.30 L176.75,317.26 L177.18,318.22 L177.60,319.38 L178.02,320.67 L178.45,322.02 L178.87,323.33 L179.29,324.54 L179.72,325.55 L180.14,326.29 L180.56,326.66 L180.99,326.69 L181.41,326.63 L181.83,326.53 L182.26,326.39 L182.68,326.22 L183.10,326.02 L183.53,325.80 L183.95,325.56 L184.37,325.29 L184.80,324.79 L185.22,324.05 L185.64,323.14 L186.07,322.14 L186.49,321.12 L186.91,320.14 L187.34,319.28 L187.76,318.61 L188.18,318.21 L188.61,318.14 L189.03,318.25 L189.45,318.49 L189.88,318.82 L190.30,319.24 L190.72,319.72 L191.15,320.24 L191.57,320.78 L191.99,321.32 L192.42,321.85 L192.84,322.52 L193.26,323.37 L193.69,324.31 L194.11,325.27 L194.53,326.16 L194.96,326.92 L195.38,327.45 L195.80,327.68 L196.23,327.54 L196.65,327.06 L197.07,326.32 L197.50,325.38 L197.92,324.34 L198.34,323.25 L198.77,322.22 L199.19,321.30 L199.61,320.58 L200.04,320.14 L200.46,319.90 L200.88,319.68 L201.31,319.49 L201.73,319.33 L202.15,319.21 L202.58,319.14 L203.00,319.13 L203.42,319.49 L203.85,320.25 L204.27,321.30 L204.69,322.55 L205.12,323.88 L205.54,325.18 L205.96,326.36 L206.39,327.29 L206.81,327.87 L207.23,328.00 L207.66,327.72 L208.08,327.12 L208.51,326.31 L208.93,325.37 L209.35,324.40 L209.78,323.50 L210.20,322.75 L210.62,322.25 L211.05,322.09 L211.47,322.26 L211.89,322.68 L212.32,323.30 L212.74,324.07 L213.16,324.95 L213.59,325.87 L214.01,326.79 L214.43,327.67 L214.86,328.44 L215.28,329.07 L215.70,329.65 L216.13,330.25 L216.55,330.84 L216.97,331.42 L217.40,331.95 L217.82,332.42 L218.24,332.82 L218.67,333.11 L219.09,333.29 L219.51,333.39 L219.94,333.48 L220.36,333.57 L220.78,333.65 L221.21,333.72 L221.63,333.78 L222.05,333.83 L222.48,333.88 L222.90,333.91 L223.32,333.93 L223.75,333.95 L224.17,333.94 L224.59,333.78 L225.02,333.47 L225.44,333.06 L225.86,332.59 L226.29,332.10 L226.71,331.66 L227.13,331.29 L227.56,331.05 L227.98,330.99 L228.40,331.18 L228.83,331.59 L229.25,332.13 L229.67,332.72 L230.10,333.28 L230.52,333.71 L230.94,333.93 L231.37,333.88 L231.79,333.59 L232.21,333.12 L232.64,332.54 L233.06,331.90 L233.48,331.26 L233.91,330.70 L234.33,330.26 L234.75,330.02 L235.18,330.01 L235.60,330.12 L236.02,330.33 L236.45,330.61 L236.87,330.95 L237.29,331.35 L237.72,331.77 L238.14,332.22 L238.56,332.67 L238.99,333.11 L239.41,333.54 L239.83,334.06 L240.26,334.67 L240.68,335.33 L241.10,336.02 L241.53,336.72 L241.95,337.41 L242.37,338.07 L242.80,338.66 L243.22,339.18 L243.64,339.59 L244.07,339.87 L244.49,340.06 L244.91,340.24 L245.34,340.42 L245.76,340.57 L246.18,340.71 L246.61,340.83 L247.03,340.92 L247.45,340.98 L247.88,341.00 L248.30,340.98 L248.72,340.91 L249.15,340.79 L249.57,340.64 L249.99,340.48 L250.42,340.31 L250.84,340.15 L251.26,340.02 L251.69,339.93 L252.11,339.88 L252.53,339.91 L252.96,340.01 L253.38,340.18 L253.80,340.40 L254.23,340.66 L254.65,340.96 L255.07,341.27 L255.50,341.58 L255.92,341.89 L256.34,342.19 L256.77,342.55 L257.19,342.96 L257.61,343.39 L258.04,343.84 L258.46,344.28 L258.88,344.71 L259.31,345.10 L259.73,345.44 L260.15,345.71 L260.58,345.94 L261.00,346.14" fill="none" stroke="#e8141a" stroke-width="2.0" stroke-linejoin="round" stroke-linecap="butt"/>
<path d="M49.75,366.25 L72.99,366.57 L73.86,366.15 L74.74,365.71 L75.61,365.26 L76.48,364.80 L77.36,364.33 L78.23,363.85 L79.11,363.35 L79.98,362.85 L80.85,362.34 L81.73,361.81 L82.60,361.28 L83.48,360.74 L84.35,360.20 L85.22,359.64 L86.10,359.08 L86.97,358.52 L87.85,357.94 L88.72,357.37 L89.59,356.79 L90.47,356.20 L91.34,355.61 L92.22,355.02 L93.09,354.43 L93.96,353.83 L94.84,353.24 L95.71,352.64 L96.59,352.05 L97.46,351.45 L98.33,350.85 L99.21,350.26 L100.08,349.67 L100.96,349.08 L101.83,348.49 L102.70,347.91 L103.58,347.33 L104.45,346.75 L105.33,346.18 L106.20,345.62 L107.07,345.06 L107.95,344.51 L108.82,343.96 L109.70,343.42 L110.57,342.88 L111.44,342.35 L112.32,341.82 L113.19,341.30 L114.07,340.78 L114.94,340.27 L115.81,339.77 L116.69,339.27 L117.56,338.77 L118.44,338.28 L119.31,337.80 L120.18,337.32 L121.06,336.85 L121.93,336.38 L122.81,335.91 L123.68,335.46 L124.55,335.00 L125.43,334.56 L126.30,334.11 L127.18,333.68 L128.05,333.25 L128.92,332.82 L129.80,332.40 L130.67,331.98 L131.55,331.57 L132.42,331.17 L133.29,330.77 L134.17,330.37 L135.04,329.98 L135.92,329.59 L136.79,329.21 L137.66,328.84 L138.54,328.47 L139.41,328.11 L140.29,327.75 L141.16,327.39 L142.03,327.04 L142.91,326.70 L143.78,326.36 L144.66,326.03 L145.53,325.70 L146.40,325.37 L147.28,325.05 L148.15,324.74 L149.03,324.43 L149.90,324.13 L150.77,323.83 L151.65,323.53 L152.52,323.24 L153.40,322.96 L154.27,322.67 L155.14,322.40 L156.02,322.12 L156.89,321.86 L157.77,321.59 L158.64,321.33 L159.52,321.07 L160.39,320.82 L161.26,320.57 L162.14,320.33 L163.01,320.09 L163.89,319.85 L164.76,319.62 L165.63,319.39 L166.51,319.16 L167.38,318.94 L168.26,318.72 L169.13,318.51 L170.00,318.30 L170.88,318.09 L171.75,317.88 L172.63,317.68 L173.50,317.48 L174.37,317.28 L175.25,317.09 L176.12,316.90 L177.00,316.71 L177.87,316.53 L178.74,316.35 L179.62,316.17 L180.49,315.99 L181.37,315.82 L182.24,315.64 L183.11,315.47 L183.99,315.31 L184.86,315.14 L185.74,314.98 L186.61,314.82 L187.48,314.66 L188.36,314.51 L189.23,314.35 L190.11,314.20 L190.98,314.05 L191.85,313.90 L192.73,313.75 L193.60,313.61 L194.48,313.46 L195.35,313.32 L196.22,313.18 L197.10,313.04 L197.97,312.90 L198.85,312.77 L199.72,312.63 L200.59,312.50 L201.47,312.36 L202.34,312.23 L203.22,312.10 L204.09,311.97 L204.96,311.85 L205.84,311.72 L206.71,311.59 L207.59,311.47 L208.46,311.35 L209.33,311.23 L210.21,311.11 L211.08,310.99 L211.96,310.87 L212.83,310.76 L213.70,310.64 L214.58,310.53 L215.45,310.42 L216.33,310.31 L217.20,310.21 L218.07,310.10 L218.95,309.99 L219.82,309.89 L220.70,309.79 L221.57,309.69 L222.44,309.59 L223.32,309.50 L224.19,309.40 L225.07,309.31 L225.94,309.22 L226.81,309.13 L227.69,309.04 L228.56,308.96 L229.44,308.87 L230.31,308.79 L231.18,308.71 L232.06,308.63 L232.93,308.56 L233.81,308.48 L234.68,308.41 L235.55,308.34 L236.43,308.27 L237.30,308.20 L238.18,308.14 L239.05,308.07 L239.92,308.01 L240.80,307.95 L241.67,307.90 L242.55,307.84 L243.42,307.79 L244.29,307.74 L245.17,307.69 L246.04,307.64 L246.92,307.60 L250.44,366.25" fill="none" stroke="#34bb34" stroke-width="2.0" stroke-linejoin="round" stroke-linecap="butt"/>
<path d="M49.75,366.25 L72.99,366.57 L73.86,366.15 L74.74,365.71 L75.61,365.26 L76.48,364.80 L77.36,364.33 L78.23,363.85 L79.11,363.35 L79.98,362.85 L80.85,362.34 L81.73,361.81 L82.60,361.28 L83.48,360.74 L84.35,360.20 L85.22,359.64 L86.10,359.08 L86.97,358.52 L87.85,357.94 L88.72,357.37 L89.59,356.79 L90.47,356.20 L91.34,355.61 L92.22,355.02 L93.09,354.43 L93.96,353.83 L94.84,353.24 L95.71,352.64 L96.59,352.05 L97.46,351.45 L98.33,350.85 L99.21,350.26 L100.08,349.67 L100.96,349.08 L101.83,348.49 L102.70,347.91 L103.58,347.33 L104.45,346.75 L105.33,346.18 L106.20,345.62 L107.07,345.06 L107.95,344.51 L108.82,343.96 L109.70,343.42 L110.57,342.88 L111.44,342.35 L112.32,341.82 L113.19,341.30 L114.07,340.78 L114.94,340.27 L115.81,339.77 L116.69,339.27 L117.56,338.77 L118.44,338.28 L119.31,337.80 L120.18,337.32 L121.06,336.85 L121.93,336.38 L122.81,335.91 L123.68,335.46 L124.55,335.00 L125.43,334.56 L126.30,334.11 L127.18,333.68 L128.05,333.25 L128.92,332.82 L129.80,332.40 L130.67,331.98 L131.55,331.57 L132.42,331.17 L133.29,330.77 L134.17,330.37 L135.04,329.98 L135.92,329.59 L136.79,329.21 L137.66,328.84 L138.54,328.47 L139.41,328.11 L140.29,327.75 L141.16,327.39 L142.03,327.04 L142.91,326.70 L143.78,326.36 L144.66,326.03 L145.53,325.70 L146.40,325.37 L147.28,325.05 L148.15,324.74 L149.03,324.43 L149.90,324.13 L150.77,323.83 L151.65,323.53 L152.52,323.24 L153.40,322.96 L154.27,322.67 L155.14,322.40 L156.02,322.12 L156.89,321.86 L157.77,321.59 L158.64,321.33 L159.52,321.07 L160.39,320.82 L161.26,320.57 L162.14,320.33 L163.01,320.09 L163.89,319.85 L164.76,319.62 L165.63,319.39 L166.51,319.16 L167.38,318.94 L168.26,318.72 L169.13,318.51 L170.00,318.30 L170.88,318.09 L171.75,317.88 L172.63,317.68 L173.50,317.48 L174.37,317.28 L175.25,317.09 L176.12,316.90 L177.00,316.71 L177.87,316.53 L178.74,316.35 L179.62,316.17 L180.49,315.99 L181.37,315.82 L182.24,315.64 L183.11,315.47 L183.99,315.31 L184.86,315.14 L185.74,314.98 L186.61,314.82 L187.48,314.66 L188.36,314.51 L189.23,314.35 L190.11,314.20 L190.98,314.05 L191.85,313.90 L192.73,313.75 L193.60,313.61 L194.48,313.46 L195.35,313.32 L196.22,313.18 L197.10,313.04 L197.97,312.90 L198.85,312.77 L199.72,312.63 L200.59,312.50 L201.47,312.36 L202.34,312.23 L203.22,312.10 L204.09,311.97 L204.96,311.85 L205.84,311.72 L206.71,311.59 L207.59,311.47 L208.46,311.35 L209.33,311.23 L210.21,311.11 L211.08,310.99 L211.96,310.87 L212.83,310.76 L213.70,310.64 L214.58,310.53 L215.45,310.42 L216.33,310.31 L217.20,310.21 L218.07,310.10 L218.95,309.99 L219.82,309.89 L220.70,309.79 L221.57,309.69 L222.44,309.59 L223.32,309.50 L224.19,309.40 L225.07,309.31 L225.94,309.22 L226.81,309.13 L227.69,309.04 L228.56,308.96 L229.44,308.87 L230.31,308.79 L231.18,308.71 L232.06,308.63 L232.93,308.56 L233.81,308.48 L234.68,308.41 L235.55,308.34 L236.43,308.27 L237.30,308.20 L238.18,308.14 L239.05,308.07 L239.92,308.01 L240.80,307.95 L241.67,307.90 L242.55,307.84 L243.42,307.79 L244.29,307.74 L245.17,307.69 L246.04,307.64 L246.92,307.60 L250.44,366.25" fill="none" stroke="#000" stroke-width="2.18" stroke-linejoin="round" stroke-linecap="butt" stroke-dasharray="13.95,3.49,2.18,3.49"/>
<path d="M250.44,366.25 L261.00,366.25" fill="none" stroke="#000" stroke-width="2.18" stroke-linejoin="round" stroke-linecap="butt"/>
</g>
<g clip-path="url(#cBR)">
<path d="M303.20,366.25 L306.71,366.25 L310.23,366.25 L313.74,366.25 L317.25,366.25 L320.77,364.27 L324.28,362.29 L327.79,356.36 L331.31,346.80 L334.82,363.75 L338.33,333.75 L341.85,323.73 L345.36,358.67 L348.87,297.50 L352.39,326.70 L355.90,323.40 L359.41,282.53 L362.93,355.70 L366.44,313.51 L369.95,274.29 L373.47,364.37 L376.98,278.91 L380.49,269.81 L384.01,360.65 L387.52,261.11 L391.03,274.95 L394.55,344.50 L398.06,251.55 L401.57,306.92 L405.09,316.81 L408.60,247.26 L412.11,353.73 L415.63,280.55 L419.14,243.77 L422.65,364.93 L426.17,248.75 L429.68,243.77 L433.19,364.27 L436.71,240.01 L440.22,248.91 L443.73,350.76 L447.25,236.39 L450.76,234.41 L454.27,233.42 L457.79,232.50 L461.30,363.75 L464.81,248.91 L468.33,328.68 L471.84,233.09 L475.35,229.47 L478.87,236.39 L482.38,236.88 L485.89,364.27 L489.41,228.15 L492.92,364.27 L496.43,261.27 L499.95,317.47 L503.46,366.25 L506.97,366.25 L510.49,366.25 L514.00,366.25" fill="none" stroke="#ee8a22" stroke-width="2.0" stroke-linejoin="round" stroke-linecap="butt"/>
<path d="M303.20,366.25 L306.71,366.25 L310.23,366.25 L313.74,366.25 L317.25,366.25 L320.77,363.61 L324.28,359.66 L327.79,353.73 L331.31,346.80 L334.82,363.75 L338.33,333.75 L341.85,323.73 L345.36,358.67 L348.87,297.50 L352.39,337.57 L355.90,332.63 L359.41,282.53 L362.93,355.70 L366.44,313.51 L369.95,277.59 L373.47,364.37 L376.98,278.91 L380.49,306.92 L384.01,360.65 L387.52,261.11 L391.03,316.81 L394.55,344.50 L398.06,251.55 L401.57,333.75 L405.09,316.81 L408.60,247.26 L412.11,353.73 L415.63,308.57 L419.14,252.54 L422.65,364.93 L426.17,265.06 L429.68,268.03 L433.19,364.27 L436.71,246.28 L440.22,300.33 L443.73,350.76 L447.25,252.54 L450.76,237.71 L454.27,238.69 L457.79,240.67 L461.30,363.75 L464.81,296.87 L468.33,328.68 L471.84,283.85 L475.35,231.87 L478.87,263.74 L482.38,265.72 L485.89,364.27 L489.41,235.07 L492.92,364.27 L496.43,308.90 L499.95,317.47 L503.46,366.25 L506.97,366.25 L510.49,366.25 L514.00,366.25" fill="none" stroke="#1e80e6" stroke-width="2.0" stroke-linejoin="round" stroke-linecap="butt"/>
<path d="M303.20,366.25 L303.62,366.25 L304.04,366.25 L304.47,366.25 L304.89,366.25 L305.31,366.25 L305.73,366.25 L306.16,366.25 L306.58,366.25 L307.00,366.25 L307.42,366.25 L307.85,366.25 L308.27,366.25 L308.69,366.25 L309.11,366.25 L309.54,366.25 L309.96,366.25 L310.38,366.25 L310.80,366.25 L311.23,366.25 L311.65,366.25 L312.07,366.25 L312.49,366.25 L312.92,366.25 L313.34,366.25 L313.76,366.25 L314.18,366.25 L314.61,366.25 L315.03,366.25 L315.45,366.25 L315.87,366.25 L316.30,366.25 L316.72,366.25 L317.14,366.25 L317.56,366.25 L317.99,366.25 L318.41,366.25 L318.83,366.25 L319.25,366.25 L319.68,366.25 L320.10,366.25 L320.52,366.25 L320.94,366.25 L321.37,366.25 L321.79,366.25 L322.21,366.25 L322.63,366.25 L323.05,366.25 L323.48,366.25 L323.90,366.25 L324.32,366.25 L324.74,366.25 L325.17,366.25 L325.59,366.25 L326.01,366.25 L326.43,366.25 L326.86,366.25 L327.28,366.25 L327.70,365.97 L328.12,364.50 L328.55,362.22 L328.97,359.61 L329.39,357.15 L329.81,355.12 L330.24,353.07 L330.66,350.99 L331.08,348.91 L331.50,346.89 L331.93,344.96 L332.35,343.18 L332.77,341.60 L333.19,340.24 L333.62,339.05 L334.04,337.99 L334.46,336.98 L334.88,335.97 L335.31,334.91 L335.73,333.73 L336.15,332.39 L336.57,330.87 L337.00,329.25 L337.42,327.58 L337.84,325.92 L338.26,324.32 L338.69,322.79 L339.11,321.26 L339.53,319.73 L339.95,318.23 L340.38,316.74 L340.80,315.29 L341.22,313.87 L341.64,312.51 L342.06,311.16 L342.49,309.67 L342.91,308.09 L343.33,306.52 L343.75,305.05 L344.18,303.76 L344.60,302.77 L345.02,302.14 L345.44,302.02 L345.87,303.11 L346.29,305.02 L346.71,306.83 L347.13,307.58 L347.56,307.26 L347.98,306.46 L348.40,305.35 L348.82,304.09 L349.25,302.84 L349.67,301.76 L350.09,300.69 L350.51,299.57 L350.94,298.44 L351.36,297.34 L351.78,296.31 L352.20,295.40 L352.63,294.63 L353.05,293.88 L353.47,293.17 L353.89,292.50 L354.32,291.87 L354.74,291.30 L355.16,290.80 L355.58,290.38 L356.01,290.03 L356.43,289.71 L356.85,289.40 L357.27,289.11 L357.70,288.84 L358.12,288.60 L358.54,288.40 L358.96,288.26 L359.39,288.16 L359.81,288.14 L360.23,288.18 L360.65,288.29 L361.07,288.46 L361.50,288.67 L361.92,288.93 L362.34,289.21 L362.76,289.52 L363.19,289.84 L363.61,290.16 L364.03,290.48 L364.45,290.83 L364.88,291.23 L365.30,291.67 L365.72,292.15 L366.14,292.66 L366.57,293.19 L366.99,293.74 L367.41,294.29 L367.83,294.87 L368.26,295.52 L368.68,296.22 L369.10,296.94 L369.52,297.65 L369.95,298.33 L370.37,298.96 L370.79,299.51 L371.21,300.09 L371.64,300.69 L372.06,301.26 L372.48,301.75 L372.90,302.11 L373.33,302.29 L373.75,302.26 L374.17,302.03 L374.59,301.64 L375.02,301.11 L375.44,300.47 L375.86,299.75 L376.28,298.98 L376.71,298.19 L377.13,297.40 L377.55,296.62 L377.97,295.66 L378.40,294.55 L378.82,293.33 L379.24,292.04 L379.66,290.72 L380.08,289.41 L380.51,288.17 L380.93,287.02 L381.35,286.02 L381.77,285.20 L382.20,284.54 L382.62,283.89 L383.04,283.26 L383.46,282.70 L383.89,282.26 L384.31,281.97 L384.73,281.87 L385.15,281.98 L385.58,282.28 L386.00,282.72 L386.42,283.30 L386.84,283.97 L387.27,284.71 L387.69,285.49 L388.11,286.29 L388.53,287.07 L388.96,287.93 L389.38,288.99 L389.80,290.20 L390.22,291.49 L390.65,292.81 L391.07,294.12 L391.49,295.34 L391.91,296.42 L392.34,297.31 L392.76,298.05 L393.18,298.80 L393.60,299.50 L394.03,300.09 L394.45,300.49 L394.87,300.66 L395.29,300.39 L395.72,299.57 L396.14,298.33 L396.56,296.80 L396.98,295.09 L397.41,293.33 L397.83,291.64 L398.25,290.16 L398.67,288.99 L399.09,288.10 L399.52,287.19 L399.94,286.30 L400.36,285.48 L400.78,284.78 L401.21,284.24 L401.63,283.92 L402.05,283.87 L402.47,284.16 L402.90,284.75 L403.32,285.58 L403.74,286.55 L404.16,287.60 L404.59,288.64 L405.01,289.62 L405.43,290.54 L405.85,291.54 L406.28,292.60 L406.70,293.68 L407.12,294.77 L407.54,295.82 L407.97,296.81 L408.39,297.71 L408.81,298.52 L409.23,299.38 L409.66,300.25 L410.08,301.09 L410.50,301.83 L410.92,302.43 L411.35,302.83 L411.77,302.97 L412.19,302.75 L412.61,302.17 L413.04,301.28 L413.46,300.16 L413.88,298.87 L414.30,297.49 L414.73,296.08 L415.15,294.72 L415.57,293.46 L415.99,292.39 L416.42,291.32 L416.84,290.14 L417.26,288.93 L417.68,287.79 L418.11,286.81 L418.53,286.08 L418.95,285.68 L419.37,285.69 L419.79,286.09 L420.22,286.81 L420.64,287.77 L421.06,288.92 L421.48,290.18 L421.91,291.50 L422.33,292.79 L422.75,294.03 L423.17,295.60 L423.60,297.50 L424.02,299.49 L424.44,301.32 L424.86,302.75 L425.29,303.54 L425.71,303.58 L426.13,303.33 L426.55,302.88 L426.98,302.27 L427.40,301.53 L427.82,300.70 L428.24,299.83 L428.67,298.93 L429.09,298.06 L429.51,297.25 L429.93,296.52 L430.36,295.85 L430.78,295.09 L431.20,294.30 L431.62,293.52 L432.05,292.84 L432.47,292.30 L432.89,291.97 L433.31,291.91 L433.74,292.25 L434.16,292.93 L434.58,293.88 L435.00,295.00 L435.43,296.19 L435.85,297.37 L436.27,298.44 L436.69,299.32 L437.12,300.07 L437.54,300.87 L437.96,301.69 L438.38,302.51 L438.80,303.31 L439.23,304.08 L439.65,304.79 L440.07,305.43 L440.49,305.98 L440.92,306.42 L441.34,306.73 L441.76,306.90 L442.18,306.87 L442.61,306.50 L443.03,305.83 L443.45,304.97 L443.87,303.99 L444.30,303.00 L444.72,302.07 L445.14,301.31 L445.56,300.62 L445.99,299.86 L446.41,299.10 L446.83,298.39 L447.25,297.78 L447.68,297.32 L448.10,297.07 L448.52,297.04 L448.94,297.12 L449.37,297.25 L449.79,297.45 L450.21,297.70 L450.63,297.99 L451.06,298.33 L451.48,298.70 L451.90,299.44 L452.32,300.72 L452.75,302.33 L453.17,304.05 L453.59,305.68 L454.01,307.00 L454.44,307.87 L454.86,308.61 L455.28,309.34 L455.70,310.02 L456.13,310.64 L456.55,311.18 L456.97,311.62 L457.39,311.95 L457.81,312.15 L458.24,312.17 L458.66,311.45 L459.08,310.01 L459.50,308.12 L459.93,306.08 L460.35,304.19 L460.77,302.74 L461.19,302.01 L461.62,302.20 L462.04,303.11 L462.46,304.55 L462.88,306.32 L463.31,308.25 L463.73,310.15 L464.15,311.82 L464.57,313.10 L465.00,313.78 L465.42,313.78 L465.84,313.40 L466.26,312.78 L466.69,312.01 L467.11,311.19 L467.53,310.41 L467.95,309.77 L468.38,309.36 L468.80,309.06 L469.22,308.78 L469.64,308.52 L470.07,308.29 L470.49,308.11 L470.91,307.98 L471.33,307.92 L471.76,307.92 L472.18,308.00 L472.60,308.13 L473.02,308.31 L473.45,308.51 L473.87,308.74 L474.29,308.98 L474.71,309.22 L475.14,309.45 L475.56,309.66 L475.98,309.85 L476.40,310.05 L476.82,310.25 L477.25,310.46 L477.67,310.69 L478.09,310.96 L478.51,311.25 L478.94,311.60 L479.36,312.17 L479.78,312.97 L480.20,313.89 L480.63,314.84 L481.05,315.71 L481.47,316.38 L481.89,316.77 L482.32,316.85 L482.74,316.90 L483.16,316.93 L483.58,316.96 L484.01,316.98 L484.43,317.00 L484.85,317.02 L485.27,317.06 L485.70,317.11 L486.12,317.23 L486.54,317.63 L486.96,318.29 L487.39,319.12 L487.81,320.04 L488.23,320.99 L488.65,321.88 L489.08,322.63 L489.50,323.17 L489.92,323.66 L490.34,324.14 L490.77,324.61 L491.19,325.02 L491.61,325.35 L492.03,325.59 L492.46,325.70 L492.88,325.63 L493.30,325.29 L493.72,324.76 L494.15,324.09 L494.57,323.37 L494.99,322.66 L495.41,322.03 L495.83,321.55 L496.26,321.29 L496.68,321.29 L497.10,321.48 L497.52,321.79 L497.95,322.18 L498.37,322.59 L498.79,322.99 L499.21,323.34 L499.64,323.69 L500.06,324.04 L500.48,324.40 L500.90,324.78 L501.33,325.17 L501.75,325.57 L502.17,326.00 L502.59,326.46 L503.02,326.94 L503.44,327.46 L503.86,328.08 L504.28,328.84 L504.71,329.70 L505.13,330.61 L505.55,331.50 L505.97,332.33 L506.40,333.05 L506.82,333.60 L507.24,333.97 L507.66,334.27 L508.09,334.52 L508.51,334.75 L508.93,334.96 L509.35,335.16 L509.78,335.39 L510.20,335.64 L510.62,335.90 L511.04,336.18 L511.47,336.46 L511.89,336.74 L512.31,337.03 L512.73,337.32 L513.16,337.62 L513.58,337.93 L514.00,338.23" fill="none" stroke="#e8141a" stroke-width="2.0" stroke-linejoin="round" stroke-linecap="butt"/>
<path d="M303.20,366.25 L317.25,366.25 L320.77,359.00 L324.28,352.24 L327.79,345.49 L331.31,339.84 L332.15,338.17 L333.00,336.53 L333.85,334.94 L334.70,333.38 L335.54,331.86 L336.39,330.38 L337.24,328.94 L338.09,327.53 L338.93,326.16 L339.78,324.82 L340.63,323.52 L341.48,322.26 L342.32,321.03 L343.17,319.85 L344.02,318.69 L344.87,317.57 L345.71,316.49 L346.56,315.44 L347.41,314.43 L348.26,313.45 L349.10,312.50 L349.95,311.59 L350.80,310.71 L351.65,309.86 L352.49,309.04 L353.34,308.26 L354.19,307.51 L355.03,306.78 L355.88,306.09 L356.73,305.43 L357.58,304.79 L358.42,304.18 L359.27,303.59 L360.12,303.03 L360.97,302.49 L361.81,301.98 L362.66,301.48 L363.51,301.01 L364.36,300.56 L365.20,300.13 L366.05,299.71 L366.90,299.31 L367.75,298.93 L368.59,298.57 L369.44,298.22 L370.29,297.89 L371.14,297.57 L371.98,297.26 L372.83,296.97 L373.68,296.69 L374.53,296.42 L375.37,296.16 L376.22,295.92 L377.07,295.68 L377.92,295.45 L378.76,295.24 L379.61,295.03 L380.46,294.83 L381.31,294.63 L382.15,294.45 L383.00,294.26 L383.85,294.09 L384.70,293.92 L385.54,293.75 L386.39,293.59 L387.24,293.43 L388.08,293.27 L388.93,293.12 L389.78,292.96 L390.63,292.81 L391.47,292.66 L392.32,292.52 L393.17,292.37 L394.02,292.23 L394.86,292.09 L395.71,291.95 L396.56,291.82 L397.41,291.68 L398.25,291.55 L399.10,291.42 L399.95,291.30 L400.80,291.17 L401.64,291.05 L402.49,290.93 L403.34,290.81 L404.19,290.69 L405.03,290.57 L405.88,290.46 L406.73,290.35 L407.58,290.24 L408.42,290.13 L409.27,290.03 L410.12,289.92 L410.97,289.82 L411.81,289.72 L412.66,289.62 L413.51,289.52 L414.36,289.43 L415.20,289.33 L416.05,289.24 L416.90,289.15 L417.75,289.06 L418.59,288.97 L419.44,288.89 L420.29,288.81 L421.14,288.72 L421.98,288.64 L422.83,288.56 L423.68,288.49 L424.52,288.41 L425.37,288.34 L426.22,288.26 L427.07,288.19 L427.91,288.12 L428.76,288.05 L429.61,287.99 L430.46,287.92 L431.30,287.86 L432.15,287.79 L433.00,287.73 L433.85,287.67 L434.69,287.61 L435.54,287.55 L436.39,287.50 L437.24,287.44 L438.08,287.39 L438.93,287.34 L439.78,287.29 L440.63,287.23 L441.47,287.19 L442.32,287.14 L443.17,287.09 L444.02,287.05 L444.86,287.00 L445.71,286.96 L446.56,286.92 L447.41,286.87 L448.25,286.83 L449.10,286.79 L449.95,286.76 L450.80,286.72 L451.64,286.68 L452.49,286.65 L453.34,286.61 L454.19,286.58 L455.03,286.55 L455.88,286.51 L456.73,286.48 L457.57,286.45 L458.42,286.42 L459.27,286.40 L460.12,286.37 L460.96,286.34 L461.81,286.32 L462.66,286.29 L463.51,286.27 L464.35,286.24 L465.20,286.22 L466.05,286.20 L466.90,286.17 L467.74,286.15 L468.59,286.13 L469.44,286.11 L470.29,286.09 L471.13,286.07 L471.98,286.05 L472.83,286.04 L473.68,286.02 L474.52,286.00 L475.37,285.99 L476.22,285.97 L477.07,285.95 L477.91,285.94 L478.76,285.92 L479.61,285.91 L480.46,285.90 L481.30,285.88 L482.15,285.87 L483.00,285.86 L483.85,285.84 L484.69,285.83 L485.54,285.82 L486.39,285.81 L487.24,285.80 L488.08,285.78 L488.93,285.77 L489.78,285.76 L490.62,285.75 L491.47,285.74 L492.32,285.73 L493.17,285.72 L494.01,285.71 L494.86,285.70 L495.71,285.69 L496.56,285.68 L497.40,285.67 L498.25,285.66 L499.10,285.65 L499.95,285.64 L503.46,366.25" fill="none" stroke="#34bb34" stroke-width="2.0" stroke-linejoin="round" stroke-linecap="butt"/>
<path d="M303.20,366.25 L317.25,366.25 L320.77,363.12 L324.28,354.38 L327.79,346.14 L331.31,339.84 L332.15,338.17 L333.00,336.53 L333.85,334.94 L334.70,333.38 L335.54,331.86 L336.39,330.38 L337.24,328.94 L338.09,327.53 L338.93,326.16 L339.78,324.82 L340.63,323.52 L341.48,322.26 L342.32,321.03 L343.17,319.85 L344.02,318.69 L344.87,317.57 L345.71,316.49 L346.56,315.44 L347.41,314.43 L348.26,313.45 L349.10,312.50 L349.95,311.59 L350.80,310.71 L351.65,309.86 L352.49,309.04 L353.34,308.26 L354.19,307.51 L355.03,306.78 L355.88,306.09 L356.73,305.43 L357.58,304.79 L358.42,304.18 L359.27,303.59 L360.12,303.03 L360.97,302.49 L361.81,301.98 L362.66,301.48 L363.51,301.01 L364.36,300.56 L365.20,300.13 L366.05,299.71 L366.90,299.31 L367.75,298.93 L368.59,298.57 L369.44,298.22 L370.29,297.89 L371.14,297.57 L371.98,297.26 L372.83,296.97 L373.68,296.69 L374.53,296.42 L375.37,296.16 L376.22,295.92 L377.07,295.68 L377.92,295.45 L378.76,295.24 L379.61,295.03 L380.46,294.83 L381.31,294.63 L382.15,294.45 L383.00,294.26 L383.85,294.09 L384.70,293.92 L385.54,293.75 L386.39,293.59 L387.24,293.43 L388.08,293.27 L388.93,293.12 L389.78,292.96 L390.63,292.81 L391.47,292.66 L392.32,292.52 L393.17,292.37 L394.02,292.23 L394.86,292.09 L395.71,291.95 L396.56,291.82 L397.41,291.68 L398.25,291.55 L399.10,291.42 L399.95,291.30 L400.80,291.17 L401.64,291.05 L402.49,290.93 L403.34,290.81 L404.19,290.69 L405.03,290.57 L405.88,290.46 L406.73,290.35 L407.58,290.24 L408.42,290.13 L409.27,290.03 L410.12,289.92 L410.97,289.82 L411.81,289.72 L412.66,289.62 L413.51,289.52 L414.36,289.43 L415.20,289.33 L416.05,289.24 L416.90,289.15 L417.75,289.06 L418.59,288.97 L419.44,288.89 L420.29,288.81 L421.14,288.72 L421.98,288.64 L422.83,288.56 L423.68,288.49 L424.52,288.41 L425.37,288.34 L426.22,288.26 L427.07,288.19 L427.91,288.12 L428.76,288.05 L429.61,287.99 L430.46,287.92 L431.30,287.86 L432.15,287.79 L433.00,287.73 L433.85,287.67 L434.69,287.61 L435.54,287.55 L436.39,287.50 L437.24,287.44 L438.08,287.39 L438.93,287.34 L439.78,287.29 L440.63,287.23 L441.47,287.19 L442.32,287.14 L443.17,287.09 L444.02,287.05 L444.86,287.00 L445.71,286.96 L446.56,286.92 L447.41,286.87 L448.25,286.83 L449.10,286.79 L449.95,286.76 L450.80,286.72 L451.64,286.68 L452.49,286.65 L453.34,286.61 L454.19,286.58 L455.03,286.55 L455.88,286.51 L456.73,286.48 L457.57,286.45 L458.42,286.42 L459.27,286.40 L460.12,286.37 L460.96,286.34 L461.81,286.32 L462.66,286.29 L463.51,286.27 L464.35,286.24 L465.20,286.22 L466.05,286.20 L466.90,286.17 L467.74,286.15 L468.59,286.13 L469.44,286.11 L470.29,286.09 L471.13,286.07 L471.98,286.05 L472.83,286.04 L473.68,286.02 L474.52,286.00 L475.37,285.99 L476.22,285.97 L477.07,285.95 L477.91,285.94 L478.76,285.92 L479.61,285.91 L480.46,285.90 L481.30,285.88 L482.15,285.87 L483.00,285.86 L483.85,285.84 L484.69,285.83 L485.54,285.82 L486.39,285.81 L487.24,285.80 L488.08,285.78 L488.93,285.77 L489.78,285.76 L490.62,285.75 L491.47,285.74 L492.32,285.73 L493.17,285.72 L494.01,285.71 L494.86,285.70 L495.71,285.69 L496.56,285.68 L497.40,285.67 L498.25,285.66 L499.10,285.65 L499.95,285.64 L503.46,366.25" fill="none" stroke="#000" stroke-width="2.18" stroke-linejoin="round" stroke-linecap="butt" stroke-dasharray="13.95,3.49,2.18,3.49"/>
<path d="M503.46,366.25 L514.00,366.25" fill="none" stroke="#000" stroke-width="2.18" stroke-linejoin="round" stroke-linecap="butt"/>
</g>
<g clip-path="url(#cI)"><path d="M166.00,104.97 L166.27,104.97 L166.53,104.96 L166.80,104.96 L167.06,104.95 L167.33,104.94 L167.60,104.94 L167.86,104.93 L168.13,104.92 L168.40,104.90 L168.66,104.89 L168.93,104.88 L169.19,104.86 L169.46,104.84 L169.73,104.82 L169.99,104.80 L170.26,104.77 L170.53,104.74 L170.79,104.71 L171.06,104.67 L171.32,104.63 L171.59,104.58 L171.86,104.53 L172.12,104.48 L172.39,104.42 L172.66,104.35 L172.92,104.28 L173.19,104.19 L173.45,104.10 L173.72,104.01 L173.99,103.90 L174.25,103.78 L174.52,103.66 L174.79,103.52 L175.05,103.37 L175.32,103.21 L175.58,103.03 L175.85,102.85 L176.12,102.64 L176.38,102.42 L176.65,102.19 L176.92,101.94 L177.18,101.67 L177.45,101.39 L177.71,101.08 L177.98,100.76 L178.25,100.42 L178.51,100.06 L178.78,99.68 L179.04,99.28 L179.31,98.86 L179.58,98.42 L179.84,97.97 L180.11,97.49 L180.38,97.00 L180.64,96.48 L180.91,95.96 L181.17,95.41 L181.44,94.86 L181.71,94.29 L181.97,93.71 L182.24,93.12 L182.51,92.53 L182.77,91.94 L183.04,91.34 L183.30,90.75 L183.57,90.16 L183.84,89.59 L184.10,89.02 L184.37,88.48 L184.64,87.96 L184.90,87.46 L185.17,86.99 L185.43,86.57 L185.70,86.18 L185.97,85.85 L186.23,85.57 L186.50,85.36 L186.77,85.22 L187.03,85.22 L187.30,85.35 L187.56,85.57 L187.83,85.84 L188.10,86.18 L188.36,86.56 L188.63,86.99 L188.89,87.45 L189.16,87.95 L189.43,88.47 L189.69,89.02 L189.96,89.58 L190.23,90.16 L190.49,90.74 L190.76,91.34 L191.02,91.93 L191.29,92.53 L191.56,93.12 L191.82,93.70 L192.09,94.28 L192.36,94.85 L192.62,95.41 L192.89,95.95 L193.15,96.48 L193.42,96.99 L193.69,97.48 L193.95,97.96 L194.22,98.42 L194.49,98.86 L194.75,99.28 L195.02,99.67 L195.28,100.06 L195.55,100.42 L195.82,100.76 L196.08,101.08 L196.35,101.38 L196.62,101.67 L196.88,101.94 L197.15,102.19 L197.41,102.42 L197.68,102.64 L197.95,102.84 L198.21,103.03 L198.48,103.21 L198.75,103.37 L199.01,103.52 L199.28,103.66 L199.54,103.78 L199.81,103.90 L200.08,104.01 L200.34,104.10 L200.61,104.19 L200.87,104.27 L201.14,104.35 L201.41,104.42 L201.67,104.48 L201.94,104.53 L202.21,104.58 L202.47,104.63 L202.74,104.67 L203.00,104.71 L203.27,104.74 L203.54,104.77 L203.80,104.79 L204.07,104.82 L204.34,104.84 L204.60,104.86 L204.87,104.88 L205.13,104.89 L205.40,104.90 L205.67,104.92 L205.93,104.93 L206.20,104.94 L206.47,104.94 L206.73,104.95 L207.00,104.96 L207.26,104.96 L207.53,104.97 L207.80,104.97 L208.06,104.98 L208.33,104.98 L208.60,104.98 L208.86,104.98 L209.13,104.99 L209.39,104.99 L209.66,104.99 L209.93,104.99 L210.19,104.99 L210.46,104.99 L210.73,104.99 L210.99,105.00 L211.26,105.00 L211.52,105.00 L211.79,105.00 L212.06,105.00 L212.32,105.00 L212.59,105.00 L212.85,105.00 L213.12,105.00 L213.39,105.00 L213.65,105.00 L213.92,105.00 L214.19,105.00 L214.45,105.00 L214.72,105.00 L214.98,105.00 L215.25,105.00 L215.52,105.00 L215.78,105.00 L216.05,105.00 L216.32,105.00 L216.58,105.00 L216.85,105.00 L217.11,105.00 L217.38,105.00 L217.65,105.00 L217.91,105.00 L218.18,105.00 L218.45,105.00 L218.71,105.00 L218.98,105.00 L219.24,105.00 L219.51,105.00 L219.78,105.00 L220.04,105.00 L220.31,105.00 L220.58,105.00 L220.84,105.00 L221.11,105.00 L221.37,105.00 L221.64,105.00 L221.91,105.00 L222.17,105.00 L222.44,105.00 L222.71,105.00 L222.97,105.00 L223.24,105.00 L223.50,105.00 L223.77,105.00 L224.04,105.00 L224.30,105.00 L224.57,105.00 L224.83,105.00 L225.10,105.00 L225.37,105.00 L225.63,105.00 L225.90,105.00 L226.17,105.00 L226.43,105.00 L226.70,105.00 L226.96,105.00 L227.23,105.00 L227.50,105.00 L227.76,105.00 L228.03,105.00 L228.30,105.00 L228.56,105.00 L228.83,105.00 L229.09,105.00 L229.36,105.00 L229.63,105.00 L229.89,105.00 L230.16,105.00 L230.43,105.00 L230.69,105.00 L230.96,105.00 L231.22,105.00 L231.49,105.00 L231.76,105.00 L232.02,105.00 L232.29,105.00 L232.56,105.00 L232.82,105.00 L233.09,105.00 L233.35,105.00 L233.62,105.00 L233.89,105.00 L234.15,105.00 L234.42,105.00 L234.68,105.00 L234.95,105.00 L235.22,105.00 L235.48,105.00 L235.75,105.00 L236.02,105.00 L236.28,105.00 L236.55,105.00 L236.81,105.00 L237.08,105.00 L237.35,105.00 L237.61,105.00 L237.88,105.00 L238.15,105.00 L238.41,105.00 L238.68,105.00 L238.94,105.00 L239.21,105.00 L239.48,105.00 L239.74,105.00 L240.01,105.00 L240.28,105.00 L240.54,105.00 L240.81,105.00 L241.07,105.00 L241.34,105.00 L241.61,105.00 L241.87,105.00 L242.14,105.00 L242.41,105.00 L242.67,105.00 L242.94,105.00 L243.20,105.00 L243.47,105.00 L243.74,105.00 L244.00,105.00 L244.27,105.00 L244.54,105.00 L244.80,105.00 L245.07,105.00 L245.33,105.00 L245.60,105.00" fill="none" stroke="#000" stroke-width="1.6" stroke-dasharray="4.5,2.0"/><path d="M166.74,104.95 L167.01,104.95 L167.27,104.95 L167.54,104.95 L167.80,104.95 L168.07,104.95 L168.34,104.95 L168.60,104.95 L168.87,104.95 L169.13,104.95 L169.40,104.95 L169.67,104.95 L169.93,104.95 L170.20,104.95 L170.46,104.95 L170.73,104.95 L171.00,104.95 L171.26,104.95 L171.53,104.95 L171.79,104.95 L172.06,104.95 L172.33,104.95 L172.59,104.95 L172.86,104.95 L173.12,104.95 L173.39,104.95 L173.65,104.95 L173.92,104.95 L174.19,104.95 L174.45,104.95 L174.72,104.95 L174.98,104.95 L175.25,104.95 L175.52,104.95 L175.78,104.95 L176.05,104.95 L176.31,104.95 L176.58,104.95 L176.85,104.95 L177.11,104.95 L177.38,104.95 L177.64,104.95 L177.91,104.95 L178.18,104.95 L178.44,104.95 L178.71,104.95 L178.97,104.95 L179.24,104.95 L179.51,104.95 L179.77,104.95 L180.04,104.95 L180.30,104.95 L180.57,104.95 L180.84,104.95 L181.10,104.95 L181.37,104.95 L181.63,104.95 L181.90,104.95 L182.17,104.95 L182.43,104.95 L182.70,104.95 L182.96,104.95 L183.23,104.95 L183.50,104.95 L183.76,104.95 L184.03,104.95 L184.29,104.95 L184.56,104.95 L184.82,104.95 L185.09,104.95 L185.36,104.94 L185.62,104.94 L185.89,104.94 L186.15,104.94 L186.42,104.94 L186.69,104.94 L186.95,104.94 L187.22,104.94 L187.48,104.94 L187.75,104.94 L188.02,104.94 L188.28,104.94 L188.55,104.94 L188.81,104.94 L189.08,104.94 L189.35,104.93 L189.61,104.93 L189.88,104.93 L190.14,104.93 L190.41,104.92 L190.68,104.92 L190.94,104.92 L191.21,104.91 L191.47,104.91 L191.74,104.90 L192.01,104.89 L192.27,104.89 L192.54,104.88 L192.80,104.87 L193.07,104.86 L193.34,104.85 L193.60,104.84 L193.87,104.83 L194.13,104.81 L194.40,104.80 L194.67,104.78 L194.93,104.76 L195.20,104.74 L195.46,104.72 L195.73,104.70 L195.99,104.67 L196.26,104.65 L196.53,104.61 L196.79,104.58 L197.06,104.55 L197.32,104.51 L197.59,104.46 L197.86,104.42 L198.12,104.36 L198.39,104.31 L198.65,104.25 L198.92,104.18 L199.19,104.11 L199.45,104.03 L199.72,103.95 L199.98,103.86 L200.25,103.76 L200.52,103.65 L200.78,103.53 L201.05,103.40 L201.31,103.26 L201.58,103.11 L201.85,102.94 L202.11,102.76 L202.38,102.56 L202.64,102.35 L202.91,102.11 L203.18,101.86 L203.44,101.59 L203.71,101.28 L203.97,100.96 L204.24,100.60 L204.51,100.22 L204.77,99.80 L205.04,99.34 L205.30,98.84 L205.57,98.30 L205.84,97.71 L206.10,97.07 L206.37,96.37 L206.63,95.63 L206.90,94.93 L207.16,94.29 L207.43,93.70 L207.70,93.16 L207.96,92.66 L208.23,92.20 L208.49,91.78 L208.76,91.40 L209.03,91.04 L209.29,90.71 L209.56,90.41 L209.82,90.14 L210.09,89.88 L210.36,89.65 L210.62,89.44 L210.89,89.24 L211.15,89.06 L211.42,88.89 L211.69,88.74 L211.95,88.60 L212.22,88.47 L212.48,88.35 L212.75,88.24 L213.02,88.14 L213.28,88.05 L213.55,87.96 L213.81,87.89 L214.08,87.81 L214.35,87.75 L214.61,87.69 L214.88,87.63 L215.14,87.58 L215.41,87.53 L215.68,87.49 L215.94,87.45 L216.21,87.42 L216.47,87.38 L216.74,87.35 L217.01,87.32 L217.27,87.30 L217.54,87.27 L217.80,87.25 L218.07,87.23 L218.33,87.21 L218.60,87.19 L218.87,87.18 L219.13,87.16 L219.40,87.15 L219.66,87.14 L219.93,87.13 L220.20,87.12 L220.46,87.11 L220.73,87.10 L220.99,87.09 L221.26,87.08 L221.53,87.08 L221.79,87.07 L222.06,87.06 L222.32,87.06 L222.59,87.05 L222.86,87.05 L223.12,87.05 L223.39,87.04 L223.65,87.04 L223.92,87.04 L224.19,87.03 L224.45,87.03 L224.72,87.03 L224.98,87.03 L225.25,87.02 L225.52,87.02 L225.78,87.02 L226.05,87.02 L226.31,87.02 L226.58,87.02 L226.85,87.01 L227.11,87.01 L227.38,87.01 L227.64,87.01 L227.91,87.01 L228.18,87.01 L228.44,87.01 L228.71,87.01 L228.97,87.01 L229.24,87.01 L229.50,87.01 L229.77,87.01 L230.04,87.01 L230.30,87.00 L230.57,87.00 L230.83,87.00 L231.10,87.00 L231.37,87.00 L231.63,87.00 L231.90,87.00 L232.16,87.00 L232.43,87.00 L232.70,87.00 L232.96,87.00 L233.23,87.00 L233.49,87.00 L233.76,87.00 L234.03,87.00 L234.29,87.00 L234.56,87.00 L234.82,87.00 L235.09,87.00 L235.36,87.00 L235.62,87.00 L235.89,87.00 L236.15,87.00 L236.42,87.00 L236.69,87.00 L236.95,87.00 L237.22,87.00 L237.48,87.00 L237.75,87.00 L238.02,87.00 L238.28,87.00 L238.55,87.00 L238.81,87.00 L239.08,87.00 L239.35,87.00 L239.61,87.00 L239.88,87.00 L240.14,87.00 L240.41,87.00 L240.67,87.00 L240.94,87.00 L241.21,87.00 L241.47,87.00 L241.74,87.00 L242.00,87.00 L242.27,87.00 L242.54,87.00 L242.80,87.00 L243.07,87.00 L243.33,87.00 L243.60,87.00 L243.87,87.00 L244.13,87.00 L244.40,87.00 L244.66,87.00 L244.93,87.00 L245.20,87.00 L245.46,87.00 L245.73,87.00 L245.99,87.00 L246.26,87.00" fill="none" stroke="#e0141e" stroke-width="1.7"/><path d="M165.44,105.05 L165.71,105.05 L165.97,105.05 L166.24,105.05 L166.50,105.05 L166.77,105.05 L167.04,105.05 L167.30,105.05 L167.57,105.05 L167.83,105.05 L168.10,105.05 L168.37,105.05 L168.63,105.05 L168.90,105.05 L169.16,105.05 L169.43,105.05 L169.70,105.05 L169.96,105.05 L170.23,105.05 L170.49,105.05 L170.76,105.05 L171.03,105.05 L171.29,105.05 L171.56,105.05 L171.82,105.05 L172.09,105.05 L172.35,105.05 L172.62,105.05 L172.89,105.05 L173.15,105.05 L173.42,105.05 L173.68,105.05 L173.95,105.05 L174.22,105.05 L174.48,105.05 L174.75,105.05 L175.01,105.05 L175.28,105.05 L175.55,105.05 L175.81,105.05 L176.08,105.05 L176.34,105.05 L176.61,105.05 L176.88,105.05 L177.14,105.05 L177.41,105.05 L177.67,105.05 L177.94,105.05 L178.21,105.05 L178.47,105.05 L178.74,105.05 L179.00,105.05 L179.27,105.05 L179.54,105.05 L179.80,105.05 L180.07,105.05 L180.33,105.05 L180.60,105.05 L180.87,105.05 L181.13,105.05 L181.40,105.05 L181.66,105.05 L181.93,105.05 L182.20,105.05 L182.46,105.05 L182.73,105.05 L182.99,105.05 L183.26,105.05 L183.52,105.05 L183.79,105.05 L184.06,105.06 L184.32,105.06 L184.59,105.06 L184.85,105.06 L185.12,105.06 L185.39,105.06 L185.65,105.06 L185.92,105.06 L186.18,105.06 L186.45,105.06 L186.72,105.06 L186.98,105.06 L187.25,105.06 L187.51,105.06 L187.78,105.06 L188.05,105.07 L188.31,105.07 L188.58,105.07 L188.84,105.07 L189.11,105.08 L189.38,105.08 L189.64,105.08 L189.91,105.09 L190.17,105.09 L190.44,105.10 L190.71,105.11 L190.97,105.11 L191.24,105.12 L191.50,105.13 L191.77,105.14 L192.04,105.15 L192.30,105.16 L192.57,105.17 L192.83,105.19 L193.10,105.20 L193.37,105.22 L193.63,105.24 L193.90,105.26 L194.16,105.28 L194.43,105.30 L194.69,105.33 L194.96,105.35 L195.23,105.39 L195.49,105.42 L195.76,105.45 L196.02,105.49 L196.29,105.54 L196.56,105.58 L196.82,105.64 L197.09,105.69 L197.35,105.75 L197.62,105.82 L197.89,105.89 L198.15,105.97 L198.42,106.05 L198.68,106.14 L198.95,106.24 L199.22,106.35 L199.48,106.47 L199.75,106.60 L200.01,106.74 L200.28,106.89 L200.55,107.06 L200.81,107.24 L201.08,107.44 L201.34,107.65 L201.61,107.89 L201.88,108.14 L202.14,108.41 L202.41,108.72 L202.67,109.04 L202.94,109.40 L203.21,109.78 L203.47,110.20 L203.74,110.66 L204.00,111.16 L204.27,111.70 L204.54,112.29 L204.80,112.93 L205.07,113.63 L205.33,114.37 L205.60,115.07 L205.86,115.71 L206.13,116.30 L206.40,116.84 L206.66,117.34 L206.93,117.80 L207.19,118.22 L207.46,118.60 L207.73,118.96 L207.99,119.29 L208.26,119.59 L208.52,119.86 L208.79,120.12 L209.06,120.35 L209.32,120.56 L209.59,120.76 L209.85,120.94 L210.12,121.11 L210.39,121.26 L210.65,121.40 L210.92,121.53 L211.18,121.65 L211.45,121.76 L211.72,121.86 L211.98,121.95 L212.25,122.04 L212.51,122.11 L212.78,122.19 L213.05,122.25 L213.31,122.31 L213.58,122.37 L213.84,122.42 L214.11,122.47 L214.38,122.51 L214.64,122.55 L214.91,122.58 L215.17,122.62 L215.44,122.65 L215.71,122.68 L215.97,122.70 L216.24,122.73 L216.50,122.75 L216.77,122.77 L217.03,122.79 L217.30,122.81 L217.57,122.82 L217.83,122.84 L218.10,122.85 L218.36,122.86 L218.63,122.87 L218.90,122.88 L219.16,122.89 L219.43,122.90 L219.69,122.91 L219.96,122.92 L220.23,122.92 L220.49,122.93 L220.76,122.94 L221.02,122.94 L221.29,122.95 L221.56,122.95 L221.82,122.95 L222.09,122.96 L222.35,122.96 L222.62,122.96 L222.89,122.97 L223.15,122.97 L223.42,122.97 L223.68,122.97 L223.95,122.98 L224.22,122.98 L224.48,122.98 L224.75,122.98 L225.01,122.98 L225.28,122.98 L225.55,122.99 L225.81,122.99 L226.08,122.99 L226.34,122.99 L226.61,122.99 L226.88,122.99 L227.14,122.99 L227.41,122.99 L227.67,122.99 L227.94,122.99 L228.20,122.99 L228.47,122.99 L228.74,122.99 L229.00,123.00 L229.27,123.00 L229.53,123.00 L229.80,123.00 L230.07,123.00 L230.33,123.00 L230.60,123.00 L230.86,123.00 L231.13,123.00 L231.40,123.00 L231.66,123.00 L231.93,123.00 L232.19,123.00 L232.46,123.00 L232.73,123.00 L232.99,123.00 L233.26,123.00 L233.52,123.00 L233.79,123.00 L234.06,123.00 L234.32,123.00 L234.59,123.00 L234.85,123.00 L235.12,123.00 L235.39,123.00 L235.65,123.00 L235.92,123.00 L236.18,123.00 L236.45,123.00 L236.72,123.00 L236.98,123.00 L237.25,123.00 L237.51,123.00 L237.78,123.00 L238.05,123.00 L238.31,123.00 L238.58,123.00 L238.84,123.00 L239.11,123.00 L239.37,123.00 L239.64,123.00 L239.91,123.00 L240.17,123.00 L240.44,123.00 L240.70,123.00 L240.97,123.00 L241.24,123.00 L241.50,123.00 L241.77,123.00 L242.03,123.00 L242.30,123.00 L242.57,123.00 L242.83,123.00 L243.10,123.00 L243.36,123.00 L243.63,123.00 L243.90,123.00 L244.16,123.00 L244.43,123.00 L244.69,123.00 L244.96,123.00" fill="none" stroke="#2814cc" stroke-width="1.7"/></g><rect x="166" y="79.6" width="79.6" height="50" fill="none" stroke="#000" stroke-width="1.3"/><text x="206" y="139.4" font-size="12" font-style="italic" text-anchor="middle">q</text>
<rect x="49.75" y="37.25" width="211.25" height="158.35" fill="none" stroke="#000" stroke-width="1.3"/>
<line x1="49.75" x2="49.75" y1="195.6" y2="200.6" stroke="#000" stroke-width="1.3"/>
<line x1="84.96" x2="84.96" y1="195.6" y2="200.6" stroke="#000" stroke-width="1.3"/>
<line x1="120.17" x2="120.17" y1="195.6" y2="200.6" stroke="#000" stroke-width="1.3"/>
<line x1="155.38" x2="155.38" y1="195.6" y2="200.6" stroke="#000" stroke-width="1.3"/>
<line x1="190.58" x2="190.58" y1="195.6" y2="200.6" stroke="#000" stroke-width="1.3"/>
<line x1="225.79" x2="225.79" y1="195.6" y2="200.6" stroke="#000" stroke-width="1.3"/>
<line x1="261.00" x2="261.00" y1="195.6" y2="200.6" stroke="#000" stroke-width="1.3"/>
<line x1="44.75" x2="49.75" y1="195.60" y2="195.60" stroke="#000" stroke-width="1.3"/>
<text x="39.45" y="199.70" font-size="12.3" text-anchor="end" textLength="15.4" lengthAdjust="spacingAndGlyphs">0.5</text>
<line x1="44.75" x2="49.75" y1="166.88" y2="166.88" stroke="#000" stroke-width="1.3"/>
<text x="39.45" y="170.98" font-size="12.3" text-anchor="end" textLength="15.4" lengthAdjust="spacingAndGlyphs">0.6</text>
<line x1="44.75" x2="49.75" y1="138.16" y2="138.16" stroke="#000" stroke-width="1.3"/>
<text x="39.45" y="142.26" font-size="12.3" text-anchor="end" textLength="15.4" lengthAdjust="spacingAndGlyphs">0.7</text>
<line x1="44.75" x2="49.75" y1="109.44" y2="109.44" stroke="#000" stroke-width="1.3"/>
<text x="39.45" y="113.54" font-size="12.3" text-anchor="end" textLength="15.4" lengthAdjust="spacingAndGlyphs">0.8</text>
<line x1="44.75" x2="49.75" y1="80.72" y2="80.72" stroke="#000" stroke-width="1.3"/>
<text x="39.45" y="84.82" font-size="12.3" text-anchor="end" textLength="15.4" lengthAdjust="spacingAndGlyphs">0.9</text>
<line x1="44.75" x2="49.75" y1="52.00" y2="52.00" stroke="#000" stroke-width="1.3"/>
<text x="39.45" y="56.10" font-size="12.3" text-anchor="end" textLength="15.4" lengthAdjust="spacingAndGlyphs">1.0</text>
<rect x="303.2" y="37.25" width="210.8" height="158.35" fill="none" stroke="#000" stroke-width="1.3"/>
<line x1="303.20" x2="303.20" y1="195.6" y2="200.6" stroke="#000" stroke-width="1.3"/>
<line x1="338.33" x2="338.33" y1="195.6" y2="200.6" stroke="#000" stroke-width="1.3"/>
<line x1="373.47" x2="373.47" y1="195.6" y2="200.6" stroke="#000" stroke-width="1.3"/>
<line x1="408.60" x2="408.60" y1="195.6" y2="200.6" stroke="#000" stroke-width="1.3"/>
<line x1="443.73" x2="443.73" y1="195.6" y2="200.6" stroke="#000" stroke-width="1.3"/>
<line x1="478.87" x2="478.87" y1="195.6" y2="200.6" stroke="#000" stroke-width="1.3"/>
<line x1="514.00" x2="514.00" y1="195.6" y2="200.6" stroke="#000" stroke-width="1.3"/>
<line x1="298.2" x2="303.2" y1="181.20" y2="181.20" stroke="#000" stroke-width="1.3"/>
<text x="292.90" y="185.30" font-size="12.3" text-anchor="end" textLength="15.4" lengthAdjust="spacingAndGlyphs">0.0</text>
<line x1="298.2" x2="303.2" y1="152.40" y2="152.40" stroke="#000" stroke-width="1.3"/>
<text x="292.90" y="156.50" font-size="12.3" text-anchor="end" textLength="15.4" lengthAdjust="spacingAndGlyphs">0.1</text>
<line x1="298.2" x2="303.2" y1="123.60" y2="123.60" stroke="#000" stroke-width="1.3"/>
<text x="292.90" y="127.70" font-size="12.3" text-anchor="end" textLength="15.4" lengthAdjust="spacingAndGlyphs">0.2</text>
<line x1="298.2" x2="303.2" y1="94.80" y2="94.80" stroke="#000" stroke-width="1.3"/>
<text x="292.90" y="98.90" font-size="12.3" text-anchor="end" textLength="15.4" lengthAdjust="spacingAndGlyphs">0.3</text>
<line x1="298.2" x2="303.2" y1="66.00" y2="66.00" stroke="#000" stroke-width="1.3"/>
<text x="292.90" y="70.10" font-size="12.3" text-anchor="end" textLength="15.4" lengthAdjust="spacingAndGlyphs">0.4</text>
<line x1="298.2" x2="303.2" y1="37.20" y2="37.20" stroke="#000" stroke-width="1.3"/>
<text x="292.90" y="41.30" font-size="12.3" text-anchor="end" textLength="15.4" lengthAdjust="spacingAndGlyphs">0.5</text>
<rect x="49.75" y="208.3" width="211.25" height="158.09999999999997" fill="none" stroke="#000" stroke-width="1.3"/>
<line x1="49.75" x2="49.75" y1="366.4" y2="371.4" stroke="#000" stroke-width="1.3"/>
<text x="50.05" y="385" font-size="12.3" text-anchor="middle">0</text>
<line x1="84.96" x2="84.96" y1="366.4" y2="371.4" stroke="#000" stroke-width="1.3"/>
<text x="85.26" y="385" font-size="12.3" text-anchor="middle">5</text>
<line x1="120.17" x2="120.17" y1="366.4" y2="371.4" stroke="#000" stroke-width="1.3"/>
<text x="120.47" y="385" font-size="12.3" text-anchor="middle">10</text>
<line x1="155.38" x2="155.38" y1="366.4" y2="371.4" stroke="#000" stroke-width="1.3"/>
<text x="155.68" y="385" font-size="12.3" text-anchor="middle">15</text>
<line x1="190.58" x2="190.58" y1="366.4" y2="371.4" stroke="#000" stroke-width="1.3"/>
<text x="190.88" y="385" font-size="12.3" text-anchor="middle">20</text>
<line x1="225.79" x2="225.79" y1="366.4" y2="371.4" stroke="#000" stroke-width="1.3"/>
<text x="226.09" y="385" font-size="12.3" text-anchor="middle">25</text>
<line x1="261.00" x2="261.00" y1="366.4" y2="371.4" stroke="#000" stroke-width="1.3"/>
<text x="261.30" y="385" font-size="12.3" text-anchor="middle">30</text>
<line x1="44.75" x2="49.75" y1="366.25" y2="366.25" stroke="#000" stroke-width="1.3"/>
<text x="39.45" y="370.35" font-size="12.3" text-anchor="end" textLength="15.4" lengthAdjust="spacingAndGlyphs">0.0</text>
<line x1="44.75" x2="49.75" y1="333.29" y2="333.29" stroke="#000" stroke-width="1.3"/>
<text x="39.45" y="337.39" font-size="12.3" text-anchor="end" textLength="15.4" lengthAdjust="spacingAndGlyphs">0.1</text>
<line x1="44.75" x2="49.75" y1="300.33" y2="300.33" stroke="#000" stroke-width="1.3"/>
<text x="39.45" y="304.43" font-size="12.3" text-anchor="end" textLength="15.4" lengthAdjust="spacingAndGlyphs">0.2</text>
<line x1="44.75" x2="49.75" y1="267.37" y2="267.37" stroke="#000" stroke-width="1.3"/>
<text x="39.45" y="271.47" font-size="12.3" text-anchor="end" textLength="15.4" lengthAdjust="spacingAndGlyphs">0.3</text>
<line x1="44.75" x2="49.75" y1="234.41" y2="234.41" stroke="#000" stroke-width="1.3"/>
<text x="39.45" y="238.51" font-size="12.3" text-anchor="end" textLength="15.4" lengthAdjust="spacingAndGlyphs">0.4</text>
<rect x="303.2" y="208.3" width="210.8" height="158.09999999999997" fill="none" stroke="#000" stroke-width="1.3"/>
<line x1="303.20" x2="303.20" y1="366.4" y2="371.4" stroke="#000" stroke-width="1.3"/>
<text x="303.50" y="385" font-size="12.3" text-anchor="middle">0</text>
<line x1="338.33" x2="338.33" y1="366.4" y2="371.4" stroke="#000" stroke-width="1.3"/>
<text x="338.63" y="385" font-size="12.3" text-anchor="middle">5</text>
<line x1="373.47" x2="373.47" y1="366.4" y2="371.4" stroke="#000" stroke-width="1.3"/>
<text x="373.77" y="385" font-size="12.3" text-anchor="middle">10</text>
<line x1="408.60" x2="408.60" y1="366.4" y2="371.4" stroke="#000" stroke-width="1.3"/>
<text x="408.90" y="385" font-size="12.3" text-anchor="middle">15</text>
<line x1="443.73" x2="443.73" y1="366.4" y2="371.4" stroke="#000" stroke-width="1.3"/>
<text x="444.03" y="385" font-size="12.3" text-anchor="middle">20</text>
<line x1="478.87" x2="478.87" y1="366.4" y2="371.4" stroke="#000" stroke-width="1.3"/>
<text x="479.17" y="385" font-size="12.3" text-anchor="middle">25</text>
<line x1="514.00" x2="514.00" y1="366.4" y2="371.4" stroke="#000" stroke-width="1.3"/>
<text x="514.30" y="385" font-size="12.3" text-anchor="middle">30</text>
<line x1="298.2" x2="303.2" y1="366.25" y2="366.25" stroke="#000" stroke-width="1.3"/>
<text x="292.90" y="370.35" font-size="12.3" text-anchor="end" textLength="15.4" lengthAdjust="spacingAndGlyphs">0.0</text>
<line x1="298.2" x2="303.2" y1="333.29" y2="333.29" stroke="#000" stroke-width="1.3"/>
<text x="292.90" y="337.39" font-size="12.3" text-anchor="end" textLength="15.4" lengthAdjust="spacingAndGlyphs">0.1</text>
<line x1="298.2" x2="303.2" y1="300.33" y2="300.33" stroke="#000" stroke-width="1.3"/>
<text x="292.90" y="304.43" font-size="12.3" text-anchor="end" textLength="15.4" lengthAdjust="spacingAndGlyphs">0.2</text>
<line x1="298.2" x2="303.2" y1="267.37" y2="267.37" stroke="#000" stroke-width="1.3"/>
<text x="292.90" y="271.47" font-size="12.3" text-anchor="end" textLength="15.4" lengthAdjust="spacingAndGlyphs">0.3</text>
<line x1="298.2" x2="303.2" y1="234.41" y2="234.41" stroke="#000" stroke-width="1.3"/>
<text x="292.90" y="238.51" font-size="12.3" text-anchor="end" textLength="15.4" lengthAdjust="spacingAndGlyphs">0.4</text>
<g style="stroke-width:0.08px"><text x="132.0" y="57.0" font-size="15.5" font-style="italic" textLength="10.700000000000001" lengthAdjust="spacingAndGlyphs">T</text><text x="142.0" y="62.2" font-size="15.5">−</text><text x="151.6" y="56.8" font-size="15.4">(</text><text x="157.4" y="57.0" font-size="14.4" font-style="italic" textLength="7.3" lengthAdjust="spacingAndGlyphs">p</text><text x="164.9" y="59.4" font-size="11.4" textLength="16.4" lengthAdjust="spacingAndGlyphs">init</text><text x="182.5" y="56.8" font-size="15.4">)</text><text x="380.4" y="57.0" font-size="15.5" font-style="italic" textLength="10.700000000000001" lengthAdjust="spacingAndGlyphs">T</text><text x="390.40000000000003" y="60.0" font-size="15.5">+</text><text x="400.0" y="56.8" font-size="15.4">(</text><text x="405.8" y="57.0" font-size="14.4" font-style="italic" textLength="7.3" lengthAdjust="spacingAndGlyphs">p</text><text x="413.3" y="59.4" font-size="11.4" textLength="16.4" lengthAdjust="spacingAndGlyphs">init</text><text x="430.90000000000003" y="56.8" font-size="15.4">)</text><text x="132.8" y="229.6" font-size="15.5" font-style="italic" textLength="11.600000000000001" lengthAdjust="spacingAndGlyphs">R</text><text x="143.70000000000002" y="234.79999999999998" font-size="15.5">−</text><text x="153.3" y="229.4" font-size="15.4">(</text><text x="159.10000000000002" y="229.6" font-size="14.4" font-style="italic" textLength="7.3" lengthAdjust="spacingAndGlyphs">p</text><text x="166.60000000000002" y="232.0" font-size="11.4" textLength="16.4" lengthAdjust="spacingAndGlyphs">init</text><text x="184.20000000000002" y="229.4" font-size="15.4">)</text><text x="381.0" y="229.6" font-size="15.5" font-style="italic" textLength="11.600000000000001" lengthAdjust="spacingAndGlyphs">R</text><text x="391.90000000000003" y="232.6" font-size="15.5">+</text><text x="401.5" y="229.4" font-size="15.4">(</text><text x="407.3" y="229.6" font-size="14.4" font-style="italic" textLength="7.3" lengthAdjust="spacingAndGlyphs">p</text><text x="414.8" y="232.0" font-size="11.4" textLength="16.4" lengthAdjust="spacingAndGlyphs">init</text><text x="432.40000000000003" y="229.4" font-size="15.4">)</text></g><text x="141.9" y="402.3" font-size="15.6" font-style="italic" textLength="8.2" lengthAdjust="spacingAndGlyphs">p</text><text x="151.1" y="404.2" font-size="11.4" textLength="17.6" lengthAdjust="spacingAndGlyphs">init</text><text x="395.0" y="402.3" font-size="15.6" font-style="italic" textLength="8.2" lengthAdjust="spacingAndGlyphs">p</text><text x="404.20000000000005" y="404.2" font-size="11.4" textLength="17.6" lengthAdjust="spacingAndGlyphs">init</text>
<rect x="0.5" y="0.6" width="518.3" height="29.3" rx="3" ry="3" fill="#fff" stroke="#cdcdcd" stroke-width="1.5"/><line x1="4.0" x2="25.6" y1="15.1" y2="15.1" stroke="#8228cc" stroke-width="2.0"/><text x="34" y="19.4" font-size="12.3" textLength="49" lengthAdjust="spacingAndGlyphs">Ehrenfest</text><line x1="95.4" x2="117.0" y1="15.1" y2="15.1" stroke="#e8141a" stroke-width="2.0"/><text x="125" y="19.4" font-size="12.3" textLength="50.6" lengthAdjust="spacingAndGlyphs">Spin-LSC</text><line x1="187" x2="208.6" y1="15.1" y2="15.1" stroke="#ee8a22" stroke-width="2.0"/><text x="216.6" y="19.4" font-size="12.3" textLength="29.4" lengthAdjust="spacingAndGlyphs">FSSH</text><line x1="257.6" x2="279.20000000000005" y1="15.1" y2="15.1" stroke="#1e80e6" stroke-width="2.0"/><text x="287.6" y="19.4" font-size="12.3" textLength="34.8" lengthAdjust="spacingAndGlyphs">MASH</text><line x1="334" x2="355.6" y1="15.1" y2="15.1" stroke="#34bb34" stroke-width="2.0"/><text x="363.6" y="12" font-size="12.3" textLength="35" lengthAdjust="spacingAndGlyphs">MASH</text><text x="364.4" y="24" font-size="12.3" textLength="78.6" lengthAdjust="spacingAndGlyphs">+ Decoherence</text><line x1="455.6" x2="477.2" y1="15.1" y2="15.1" stroke="#000" stroke-width="2.18" stroke-dasharray="13.95,3.49,2.18,3.49"/><text x="484.4" y="19.4" font-size="12.3" textLength="29.6" lengthAdjust="spacingAndGlyphs">Exact</text>
</svg></body></html>
